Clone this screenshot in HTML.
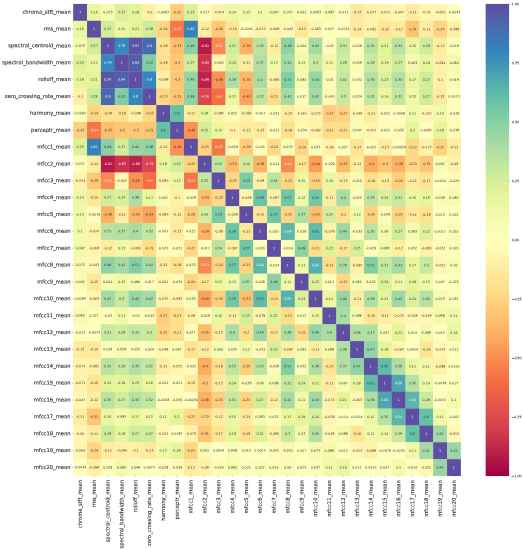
<!DOCTYPE html>
<html lang="en"><head><meta charset="utf-8"><title>Correlation heatmap</title>
<style>html,body{margin:0;padding:0;background:#fff;overflow:hidden}svg{display:block}text{font-family:'DejaVu Sans','Liberation Sans',sans-serif}.a{font-size:3.27px;text-anchor:middle;fill:#262626}.w{fill:#fff}.yl{font-size:5.23px;text-anchor:end;fill:#262626;stroke:#262626;stroke-width:.1px}.xl{font-size:5.23px;text-anchor:end;fill:#262626;stroke:#262626;stroke-width:.1px}.cb{font-size:3.27px;fill:#262626;stroke:#262626;stroke-width:.07px}</style></head><body>
<svg width="523" height="550" viewBox="0 0 523 550">
<rect x="0" y="0" width="523" height="550" fill="#ffffff"/>
<defs><linearGradient id="g" x1="0" y1="0" x2="0" y2="1"><stop offset="0.0000" stop-color="#5e4fa2"/><stop offset="0.0156" stop-color="#5956a5"/><stop offset="0.0312" stop-color="#525fa9"/><stop offset="0.0469" stop-color="#4b68ae"/><stop offset="0.0625" stop-color="#4471b2"/><stop offset="0.0781" stop-color="#3d79b6"/><stop offset="0.0938" stop-color="#3682ba"/><stop offset="0.1094" stop-color="#358bbc"/><stop offset="0.1250" stop-color="#3d95b8"/><stop offset="0.1406" stop-color="#459eb4"/><stop offset="0.1562" stop-color="#4ea7b0"/><stop offset="0.1719" stop-color="#56b0ad"/><stop offset="0.1875" stop-color="#5eb9a9"/><stop offset="0.2031" stop-color="#66c2a5"/><stop offset="0.2188" stop-color="#71c6a5"/><stop offset="0.2344" stop-color="#7ccaa5"/><stop offset="0.2500" stop-color="#86cfa5"/><stop offset="0.2656" stop-color="#91d3a4"/><stop offset="0.2812" stop-color="#9cd7a4"/><stop offset="0.2969" stop-color="#a7dba4"/><stop offset="0.3125" stop-color="#b1dfa3"/><stop offset="0.3281" stop-color="#bae3a1"/><stop offset="0.3438" stop-color="#c3e79f"/><stop offset="0.3594" stop-color="#cdeb9d"/><stop offset="0.3750" stop-color="#d6ee9b"/><stop offset="0.3906" stop-color="#dff299"/><stop offset="0.4062" stop-color="#e7f59a"/><stop offset="0.4219" stop-color="#ebf7a0"/><stop offset="0.4375" stop-color="#eff9a6"/><stop offset="0.4531" stop-color="#f3faac"/><stop offset="0.4688" stop-color="#f7fcb2"/><stop offset="0.4844" stop-color="#fbfdb8"/><stop offset="0.5000" stop-color="#ffffbe"/><stop offset="0.5156" stop-color="#fffbb8"/><stop offset="0.5312" stop-color="#fff6b0"/><stop offset="0.5469" stop-color="#fff1a8"/><stop offset="0.5625" stop-color="#feec9f"/><stop offset="0.5781" stop-color="#fee797"/><stop offset="0.5938" stop-color="#fee28f"/><stop offset="0.6094" stop-color="#fedc88"/><stop offset="0.6250" stop-color="#fed481"/><stop offset="0.6406" stop-color="#fecc7b"/><stop offset="0.6562" stop-color="#fdc574"/><stop offset="0.6719" stop-color="#fdbd6d"/><stop offset="0.6875" stop-color="#fdb567"/><stop offset="0.7031" stop-color="#fdad60"/><stop offset="0.7188" stop-color="#fba35c"/><stop offset="0.7344" stop-color="#fa9857"/><stop offset="0.7500" stop-color="#f98e52"/><stop offset="0.7656" stop-color="#f7844e"/><stop offset="0.7812" stop-color="#f67a49"/><stop offset="0.7969" stop-color="#f47044"/><stop offset="0.8125" stop-color="#f06744"/><stop offset="0.8281" stop-color="#eb6046"/><stop offset="0.8438" stop-color="#e75948"/><stop offset="0.8594" stop-color="#e2514a"/><stop offset="0.8750" stop-color="#dd4a4c"/><stop offset="0.8906" stop-color="#d8434e"/><stop offset="0.9062" stop-color="#d23a4e"/><stop offset="0.9219" stop-color="#c9314c"/><stop offset="0.9375" stop-color="#c1274a"/><stop offset="0.9531" stop-color="#b81e48"/><stop offset="0.9688" stop-color="#af1446"/><stop offset="0.9844" stop-color="#a70b44"/><stop offset="1.0000" stop-color="#9e0142"/></linearGradient></defs>
<g>
<rect x="73.20" y="3.90" width="14.10" height="17.11" fill="#5e4fa2"/>
<rect x="87.05" y="3.90" width="14.10" height="17.11" fill="#ebf7a0"/>
<rect x="100.89" y="3.90" width="14.10" height="17.11" fill="#f6fbb0"/>
<rect x="114.74" y="3.90" width="14.10" height="17.11" fill="#ddf19a"/>
<rect x="128.59" y="3.90" width="14.10" height="17.11" fill="#e7f59a"/>
<rect x="142.43" y="3.90" width="14.10" height="17.11" fill="#fff0a6"/>
<rect x="156.28" y="3.90" width="14.10" height="17.11" fill="#fefebd"/>
<rect x="170.12" y="3.90" width="14.10" height="17.11" fill="#fed07e"/>
<rect x="183.97" y="3.90" width="14.10" height="17.11" fill="#ddf19a"/>
<rect x="197.82" y="3.90" width="14.10" height="17.11" fill="#fcfeba"/>
<rect x="211.66" y="3.90" width="14.10" height="17.11" fill="#fff3ac"/>
<rect x="225.51" y="3.90" width="14.10" height="17.11" fill="#eef8a4"/>
<rect x="239.36" y="3.90" width="14.10" height="17.11" fill="#eff9a6"/>
<rect x="253.20" y="3.90" width="14.10" height="17.11" fill="#f3faac"/>
<rect x="267.05" y="3.90" width="14.10" height="17.11" fill="#f3faac"/>
<rect x="280.90" y="3.90" width="14.10" height="17.11" fill="#f6fbb0"/>
<rect x="294.74" y="3.90" width="14.10" height="17.11" fill="#f8fcb4"/>
<rect x="308.59" y="3.90" width="14.10" height="17.11" fill="#fefebd"/>
<rect x="322.44" y="3.90" width="14.10" height="17.11" fill="#f5fbaf"/>
<rect x="336.28" y="3.90" width="14.10" height="17.11" fill="#fffdbc"/>
<rect x="350.13" y="3.90" width="14.10" height="17.11" fill="#feeb9d"/>
<rect x="363.97" y="3.90" width="14.10" height="17.11" fill="#fff3ac"/>
<rect x="377.82" y="3.90" width="14.10" height="17.11" fill="#fff3ac"/>
<rect x="391.67" y="3.90" width="14.10" height="17.11" fill="#fff7b2"/>
<rect x="405.51" y="3.90" width="14.10" height="17.11" fill="#feeda1"/>
<rect x="419.36" y="3.90" width="14.10" height="17.11" fill="#fff6b0"/>
<rect x="433.21" y="3.90" width="14.10" height="17.11" fill="#fff5ae"/>
<rect x="447.05" y="3.90" width="13.85" height="17.11" fill="#fffebe"/>
<rect x="73.20" y="20.76" width="14.10" height="17.11" fill="#ebf7a0"/>
<rect x="87.05" y="20.76" width="14.10" height="17.11" fill="#5e4fa2"/>
<rect x="100.89" y="20.76" width="14.10" height="17.11" fill="#d1ed9c"/>
<rect x="114.74" y="20.76" width="14.10" height="17.11" fill="#ecf7a1"/>
<rect x="128.59" y="20.76" width="14.10" height="17.11" fill="#e4f498"/>
<rect x="142.43" y="20.76" width="14.10" height="17.11" fill="#cfec9d"/>
<rect x="156.28" y="20.76" width="14.10" height="17.11" fill="#fed683"/>
<rect x="170.12" y="20.76" width="14.10" height="17.11" fill="#f57748"/>
<rect x="183.97" y="20.76" width="14.10" height="17.11" fill="#3682ba"/>
<rect x="197.82" y="20.76" width="14.10" height="17.11" fill="#feec9f"/>
<rect x="211.66" y="20.76" width="14.10" height="17.11" fill="#fec877"/>
<rect x="225.51" y="20.76" width="14.10" height="17.11" fill="#fee695"/>
<rect x="239.36" y="20.76" width="14.10" height="17.11" fill="#fffebe"/>
<rect x="253.20" y="20.76" width="14.10" height="17.11" fill="#fff3ac"/>
<rect x="267.05" y="20.76" width="14.10" height="17.11" fill="#fff5ae"/>
<rect x="280.90" y="20.76" width="14.10" height="17.11" fill="#fff8b4"/>
<rect x="294.74" y="20.76" width="14.10" height="17.11" fill="#fee797"/>
<rect x="308.59" y="20.76" width="14.10" height="17.11" fill="#fff5ae"/>
<rect x="322.44" y="20.76" width="14.10" height="17.11" fill="#fcfeba"/>
<rect x="336.28" y="20.76" width="14.10" height="17.11" fill="#fffebe"/>
<rect x="350.13" y="20.76" width="14.10" height="17.11" fill="#feea9b"/>
<rect x="363.97" y="20.76" width="14.10" height="17.11" fill="#fff2aa"/>
<rect x="377.82" y="20.76" width="14.10" height="17.11" fill="#fee695"/>
<rect x="391.67" y="20.76" width="14.10" height="17.11" fill="#feec9f"/>
<rect x="405.51" y="20.76" width="14.10" height="17.11" fill="#fdc574"/>
<rect x="419.36" y="20.76" width="14.10" height="17.11" fill="#feeda1"/>
<rect x="433.21" y="20.76" width="14.10" height="17.11" fill="#fed683"/>
<rect x="447.05" y="20.76" width="13.85" height="17.11" fill="#fff0a6"/>
<rect x="73.20" y="37.62" width="14.10" height="17.11" fill="#f6fbb0"/>
<rect x="87.05" y="37.62" width="14.10" height="17.11" fill="#d1ed9c"/>
<rect x="100.89" y="37.62" width="14.10" height="17.11" fill="#5e4fa2"/>
<rect x="114.74" y="37.62" width="14.10" height="17.11" fill="#3389bd"/>
<rect x="128.59" y="37.62" width="14.10" height="17.11" fill="#5956a5"/>
<rect x="142.43" y="37.62" width="14.10" height="17.11" fill="#496aaf"/>
<rect x="156.28" y="37.62" width="14.10" height="17.11" fill="#fee28f"/>
<rect x="170.12" y="37.62" width="14.10" height="17.11" fill="#fdbf6f"/>
<rect x="183.97" y="37.62" width="14.10" height="17.11" fill="#8cd1a4"/>
<rect x="197.82" y="37.62" width="14.10" height="17.11" fill="#b61b48"/>
<rect x="211.66" y="37.62" width="14.10" height="17.11" fill="#f88950"/>
<rect x="225.51" y="37.62" width="14.10" height="17.11" fill="#d1ed9c"/>
<rect x="239.36" y="37.62" width="14.10" height="17.11" fill="#fdb163"/>
<rect x="253.20" y="37.62" width="14.10" height="17.11" fill="#bae3a1"/>
<rect x="267.05" y="37.62" width="14.10" height="17.11" fill="#feec9f"/>
<rect x="280.90" y="37.62" width="14.10" height="17.11" fill="#8fd2a4"/>
<rect x="294.74" y="37.62" width="14.10" height="17.11" fill="#f7fcb2"/>
<rect x="308.59" y="37.62" width="14.10" height="17.11" fill="#a4daa4"/>
<rect x="322.44" y="37.62" width="14.10" height="17.11" fill="#fffbb8"/>
<rect x="336.28" y="37.62" width="14.10" height="17.11" fill="#c6e89f"/>
<rect x="350.13" y="37.62" width="14.10" height="17.11" fill="#fcfeba"/>
<rect x="363.97" y="37.62" width="14.10" height="17.11" fill="#bae3a1"/>
<rect x="377.82" y="37.62" width="14.10" height="17.11" fill="#e4f498"/>
<rect x="391.67" y="37.62" width="14.10" height="17.11" fill="#bae3a1"/>
<rect x="405.51" y="37.62" width="14.10" height="17.11" fill="#ebf7a0"/>
<rect x="419.36" y="37.62" width="14.10" height="17.11" fill="#cfec9d"/>
<rect x="433.21" y="37.62" width="14.10" height="17.11" fill="#feec9f"/>
<rect x="447.05" y="37.62" width="13.85" height="17.11" fill="#fcfeba"/>
<rect x="73.20" y="54.48" width="14.10" height="17.11" fill="#ddf19a"/>
<rect x="87.05" y="54.48" width="14.10" height="17.11" fill="#ecf7a1"/>
<rect x="100.89" y="54.48" width="14.10" height="17.11" fill="#3389bd"/>
<rect x="114.74" y="54.48" width="14.10" height="17.11" fill="#5e4fa2"/>
<rect x="128.59" y="54.48" width="14.10" height="17.11" fill="#525fa9"/>
<rect x="142.43" y="54.48" width="14.10" height="17.11" fill="#81cda5"/>
<rect x="156.28" y="54.48" width="14.10" height="17.11" fill="#fee28f"/>
<rect x="170.12" y="54.48" width="14.10" height="17.11" fill="#fdc776"/>
<rect x="183.97" y="54.48" width="14.10" height="17.11" fill="#d1ed9c"/>
<rect x="197.82" y="54.48" width="14.10" height="17.11" fill="#cb334d"/>
<rect x="211.66" y="54.48" width="14.10" height="17.11" fill="#fff8b4"/>
<rect x="225.51" y="54.48" width="14.10" height="17.11" fill="#daf09a"/>
<rect x="239.36" y="54.48" width="14.10" height="17.11" fill="#feeda1"/>
<rect x="253.20" y="54.48" width="14.10" height="17.11" fill="#b3e0a2"/>
<rect x="267.05" y="54.48" width="14.10" height="17.11" fill="#eff9a6"/>
<rect x="280.90" y="54.48" width="14.10" height="17.11" fill="#a7dba4"/>
<rect x="294.74" y="54.48" width="14.10" height="17.11" fill="#eff9a6"/>
<rect x="308.59" y="54.48" width="14.10" height="17.11" fill="#c8e99e"/>
<rect x="322.44" y="54.48" width="14.10" height="17.11" fill="#f1f9a9"/>
<rect x="336.28" y="54.48" width="14.10" height="17.11" fill="#cfec9d"/>
<rect x="350.13" y="54.48" width="14.10" height="17.11" fill="#f8fcb4"/>
<rect x="363.97" y="54.48" width="14.10" height="17.11" fill="#caea9e"/>
<rect x="377.82" y="54.48" width="14.10" height="17.11" fill="#e7f59a"/>
<rect x="391.67" y="54.48" width="14.10" height="17.11" fill="#d1ed9c"/>
<rect x="405.51" y="54.48" width="14.10" height="17.11" fill="#f4faad"/>
<rect x="419.36" y="54.48" width="14.10" height="17.11" fill="#e8f69b"/>
<rect x="433.21" y="54.48" width="14.10" height="17.11" fill="#fff0a6"/>
<rect x="447.05" y="54.48" width="13.85" height="17.11" fill="#f4faad"/>
<rect x="73.20" y="71.34" width="14.10" height="17.11" fill="#e7f59a"/>
<rect x="87.05" y="71.34" width="14.10" height="17.11" fill="#e4f498"/>
<rect x="100.89" y="71.34" width="14.10" height="17.11" fill="#5956a5"/>
<rect x="114.74" y="71.34" width="14.10" height="17.11" fill="#525fa9"/>
<rect x="128.59" y="71.34" width="14.10" height="17.11" fill="#5e4fa2"/>
<rect x="142.43" y="71.34" width="14.10" height="17.11" fill="#3387bc"/>
<rect x="156.28" y="71.34" width="14.10" height="17.11" fill="#fff0a6"/>
<rect x="170.12" y="71.34" width="14.10" height="17.11" fill="#fdc776"/>
<rect x="183.97" y="71.34" width="14.10" height="17.11" fill="#97d5a4"/>
<rect x="197.82" y="71.34" width="14.10" height="17.11" fill="#bc2249"/>
<rect x="211.66" y="71.34" width="14.10" height="17.11" fill="#f99355"/>
<rect x="225.51" y="71.34" width="14.10" height="17.11" fill="#b1dfa3"/>
<rect x="239.36" y="71.34" width="14.10" height="17.11" fill="#fdb768"/>
<rect x="253.20" y="71.34" width="14.10" height="17.11" fill="#aadca4"/>
<rect x="267.05" y="71.34" width="14.10" height="17.11" fill="#fff1a8"/>
<rect x="280.90" y="71.34" width="14.10" height="17.11" fill="#84cea5"/>
<rect x="294.74" y="71.34" width="14.10" height="17.11" fill="#f5fbaf"/>
<rect x="308.59" y="71.34" width="14.10" height="17.11" fill="#97d5a4"/>
<rect x="322.44" y="71.34" width="14.10" height="17.11" fill="#fffcba"/>
<rect x="336.28" y="71.34" width="14.10" height="17.11" fill="#c3e79f"/>
<rect x="350.13" y="71.34" width="14.10" height="17.11" fill="#fbfdb8"/>
<rect x="363.97" y="71.34" width="14.10" height="17.11" fill="#b5e1a2"/>
<rect x="377.82" y="71.34" width="14.10" height="17.11" fill="#ddf19a"/>
<rect x="391.67" y="71.34" width="14.10" height="17.11" fill="#b5e1a2"/>
<rect x="405.51" y="71.34" width="14.10" height="17.11" fill="#eaf79e"/>
<rect x="419.36" y="71.34" width="14.10" height="17.11" fill="#d1ed9c"/>
<rect x="433.21" y="71.34" width="14.10" height="17.11" fill="#fff0a6"/>
<rect x="447.05" y="71.34" width="13.85" height="17.11" fill="#f9fcb5"/>
<rect x="73.20" y="88.20" width="14.10" height="17.11" fill="#fff0a6"/>
<rect x="87.05" y="88.20" width="14.10" height="17.11" fill="#cfec9d"/>
<rect x="100.89" y="88.20" width="14.10" height="17.11" fill="#496aaf"/>
<rect x="114.74" y="88.20" width="14.10" height="17.11" fill="#81cda5"/>
<rect x="128.59" y="88.20" width="14.10" height="17.11" fill="#3387bc"/>
<rect x="142.43" y="88.20" width="14.10" height="17.11" fill="#5e4fa2"/>
<rect x="156.28" y="88.20" width="14.10" height="17.11" fill="#fed884"/>
<rect x="170.12" y="88.20" width="14.10" height="17.11" fill="#fdc574"/>
<rect x="183.97" y="88.20" width="14.10" height="17.11" fill="#8fd2a4"/>
<rect x="197.82" y="88.20" width="14.10" height="17.11" fill="#da464d"/>
<rect x="211.66" y="88.20" width="14.10" height="17.11" fill="#f46d43"/>
<rect x="225.51" y="88.20" width="14.10" height="17.11" fill="#eaf79e"/>
<rect x="239.36" y="88.20" width="14.10" height="17.11" fill="#fba35c"/>
<rect x="253.20" y="88.20" width="14.10" height="17.11" fill="#c3e79f"/>
<rect x="267.05" y="88.20" width="14.10" height="17.11" fill="#fede89"/>
<rect x="280.90" y="88.20" width="14.10" height="17.11" fill="#a4daa4"/>
<rect x="294.74" y="88.20" width="14.10" height="17.11" fill="#fdfebb"/>
<rect x="308.59" y="88.20" width="14.10" height="17.11" fill="#a4daa4"/>
<rect x="322.44" y="88.20" width="14.10" height="17.11" fill="#fff8b4"/>
<rect x="336.28" y="88.20" width="14.10" height="17.11" fill="#c8e99e"/>
<rect x="350.13" y="88.20" width="14.10" height="17.11" fill="#fcfeba"/>
<rect x="363.97" y="88.20" width="14.10" height="17.11" fill="#c3e79f"/>
<rect x="377.82" y="88.20" width="14.10" height="17.11" fill="#ebf7a0"/>
<rect x="391.67" y="88.20" width="14.10" height="17.11" fill="#c3e79f"/>
<rect x="405.51" y="88.20" width="14.10" height="17.11" fill="#eff9a6"/>
<rect x="419.36" y="88.20" width="14.10" height="17.11" fill="#d1ed9c"/>
<rect x="433.21" y="88.20" width="14.10" height="17.11" fill="#feeb9d"/>
<rect x="447.05" y="88.20" width="13.85" height="17.11" fill="#ffffbe"/>
<rect x="73.20" y="105.06" width="14.10" height="17.11" fill="#fefebd"/>
<rect x="87.05" y="105.06" width="14.10" height="17.11" fill="#fed683"/>
<rect x="100.89" y="105.06" width="14.10" height="17.11" fill="#fee28f"/>
<rect x="114.74" y="105.06" width="14.10" height="17.11" fill="#fee28f"/>
<rect x="128.59" y="105.06" width="14.10" height="17.11" fill="#fff0a6"/>
<rect x="142.43" y="105.06" width="14.10" height="17.11" fill="#fed884"/>
<rect x="156.28" y="105.06" width="14.10" height="17.11" fill="#5e4fa2"/>
<rect x="170.12" y="105.06" width="14.10" height="17.11" fill="#66c2a5"/>
<rect x="183.97" y="105.06" width="14.10" height="17.11" fill="#feec9f"/>
<rect x="197.82" y="105.06" width="14.10" height="17.11" fill="#e8f69b"/>
<rect x="211.66" y="105.06" width="14.10" height="17.11" fill="#fff2aa"/>
<rect x="225.51" y="105.06" width="14.10" height="17.11" fill="#f9fcb5"/>
<rect x="239.36" y="105.06" width="14.10" height="17.11" fill="#fff0a6"/>
<rect x="253.20" y="105.06" width="14.10" height="17.11" fill="#fffebe"/>
<rect x="267.05" y="105.06" width="14.10" height="17.11" fill="#fffbb8"/>
<rect x="280.90" y="105.06" width="14.10" height="17.11" fill="#feeb9d"/>
<rect x="294.74" y="105.06" width="14.10" height="17.11" fill="#fff6b0"/>
<rect x="308.59" y="105.06" width="14.10" height="17.11" fill="#fff3ac"/>
<rect x="322.44" y="105.06" width="14.10" height="17.11" fill="#fece7c"/>
<rect x="336.28" y="105.06" width="14.10" height="17.11" fill="#fed481"/>
<rect x="350.13" y="105.06" width="14.10" height="17.11" fill="#fff7b2"/>
<rect x="363.97" y="105.06" width="14.10" height="17.11" fill="#feeda1"/>
<rect x="377.82" y="105.06" width="14.10" height="17.11" fill="#fffcba"/>
<rect x="391.67" y="105.06" width="14.10" height="17.11" fill="#fffebe"/>
<rect x="405.51" y="105.06" width="14.10" height="17.11" fill="#f1f9a9"/>
<rect x="419.36" y="105.06" width="14.10" height="17.11" fill="#fff7b2"/>
<rect x="433.21" y="105.06" width="14.10" height="17.11" fill="#eff9a6"/>
<rect x="447.05" y="105.06" width="13.85" height="17.11" fill="#fffbb8"/>
<rect x="73.20" y="121.93" width="14.10" height="17.11" fill="#fed07e"/>
<rect x="87.05" y="121.93" width="14.10" height="17.11" fill="#f57748"/>
<rect x="100.89" y="121.93" width="14.10" height="17.11" fill="#fdbf6f"/>
<rect x="114.74" y="121.93" width="14.10" height="17.11" fill="#fdc776"/>
<rect x="128.59" y="121.93" width="14.10" height="17.11" fill="#fdc776"/>
<rect x="142.43" y="121.93" width="14.10" height="17.11" fill="#fdc574"/>
<rect x="156.28" y="121.93" width="14.10" height="17.11" fill="#66c2a5"/>
<rect x="170.12" y="121.93" width="14.10" height="17.11" fill="#5e4fa2"/>
<rect x="183.97" y="121.93" width="14.10" height="17.11" fill="#f99355"/>
<rect x="197.82" y="121.93" width="14.10" height="17.11" fill="#d6ee9b"/>
<rect x="211.66" y="121.93" width="14.10" height="17.11" fill="#ecf7a1"/>
<rect x="225.51" y="121.93" width="14.10" height="17.11" fill="#fff0a6"/>
<rect x="239.36" y="121.93" width="14.10" height="17.11" fill="#feec9f"/>
<rect x="253.20" y="121.93" width="14.10" height="17.11" fill="#feeb9d"/>
<rect x="267.05" y="121.93" width="14.10" height="17.11" fill="#fffcba"/>
<rect x="280.90" y="121.93" width="14.10" height="17.11" fill="#fee18d"/>
<rect x="294.74" y="121.93" width="14.10" height="17.11" fill="#fffab6"/>
<rect x="308.59" y="121.93" width="14.10" height="17.11" fill="#fff1a8"/>
<rect x="322.44" y="121.93" width="14.10" height="17.11" fill="#fede89"/>
<rect x="336.28" y="121.93" width="14.10" height="17.11" fill="#fede89"/>
<rect x="350.13" y="121.93" width="14.10" height="17.11" fill="#f9fcb5"/>
<rect x="363.97" y="121.93" width="14.10" height="17.11" fill="#fff6b0"/>
<rect x="377.82" y="121.93" width="14.10" height="17.11" fill="#fffcba"/>
<rect x="391.67" y="121.93" width="14.10" height="17.11" fill="#fffab6"/>
<rect x="405.51" y="121.93" width="14.10" height="17.11" fill="#e6f598"/>
<rect x="419.36" y="121.93" width="14.10" height="17.11" fill="#fefebd"/>
<rect x="433.21" y="121.93" width="14.10" height="17.11" fill="#e8f69b"/>
<rect x="447.05" y="121.93" width="13.85" height="17.11" fill="#fffab6"/>
<rect x="73.20" y="138.79" width="14.10" height="17.11" fill="#ddf19a"/>
<rect x="87.05" y="138.79" width="14.10" height="17.11" fill="#3682ba"/>
<rect x="100.89" y="138.79" width="14.10" height="17.11" fill="#8cd1a4"/>
<rect x="114.74" y="138.79" width="14.10" height="17.11" fill="#d1ed9c"/>
<rect x="128.59" y="138.79" width="14.10" height="17.11" fill="#97d5a4"/>
<rect x="142.43" y="138.79" width="14.10" height="17.11" fill="#8fd2a4"/>
<rect x="156.28" y="138.79" width="14.10" height="17.11" fill="#feec9f"/>
<rect x="170.12" y="138.79" width="14.10" height="17.11" fill="#f99355"/>
<rect x="183.97" y="138.79" width="14.10" height="17.11" fill="#5e4fa2"/>
<rect x="197.82" y="138.79" width="14.10" height="17.11" fill="#fed481"/>
<rect x="211.66" y="138.79" width="14.10" height="17.11" fill="#f57748"/>
<rect x="225.51" y="138.79" width="14.10" height="17.11" fill="#fffbb8"/>
<rect x="239.36" y="138.79" width="14.10" height="17.11" fill="#fecc7b"/>
<rect x="253.20" y="138.79" width="14.10" height="17.11" fill="#fcfeba"/>
<rect x="267.05" y="138.79" width="14.10" height="17.11" fill="#feda86"/>
<rect x="280.90" y="138.79" width="14.10" height="17.11" fill="#f9fcb5"/>
<rect x="294.74" y="138.79" width="14.10" height="17.11" fill="#fed683"/>
<rect x="308.59" y="138.79" width="14.10" height="17.11" fill="#fbfdb8"/>
<rect x="322.44" y="138.79" width="14.10" height="17.11" fill="#fff1a8"/>
<rect x="336.28" y="138.79" width="14.10" height="17.11" fill="#fcfeba"/>
<rect x="350.13" y="138.79" width="14.10" height="17.11" fill="#fee593"/>
<rect x="363.97" y="138.79" width="14.10" height="17.11" fill="#fffbb8"/>
<rect x="377.82" y="138.79" width="14.10" height="17.11" fill="#feeb9d"/>
<rect x="391.67" y="138.79" width="14.10" height="17.11" fill="#fffebe"/>
<rect x="405.51" y="138.79" width="14.10" height="17.11" fill="#feda86"/>
<rect x="419.36" y="138.79" width="14.10" height="17.11" fill="#fff3ac"/>
<rect x="433.21" y="138.79" width="14.10" height="17.11" fill="#fed481"/>
<rect x="447.05" y="138.79" width="13.85" height="17.11" fill="#feec9f"/>
<rect x="73.20" y="155.65" width="14.10" height="17.11" fill="#fcfeba"/>
<rect x="87.05" y="155.65" width="14.10" height="17.11" fill="#feec9f"/>
<rect x="100.89" y="155.65" width="14.10" height="17.11" fill="#b61b48"/>
<rect x="114.74" y="155.65" width="14.10" height="17.11" fill="#cb334d"/>
<rect x="128.59" y="155.65" width="14.10" height="17.11" fill="#bc2249"/>
<rect x="142.43" y="155.65" width="14.10" height="17.11" fill="#da464d"/>
<rect x="156.28" y="155.65" width="14.10" height="17.11" fill="#e8f69b"/>
<rect x="170.12" y="155.65" width="14.10" height="17.11" fill="#d6ee9b"/>
<rect x="183.97" y="155.65" width="14.10" height="17.11" fill="#fed481"/>
<rect x="197.82" y="155.65" width="14.10" height="17.11" fill="#5e4fa2"/>
<rect x="211.66" y="155.65" width="14.10" height="17.11" fill="#c3e79f"/>
<rect x="225.51" y="155.65" width="14.10" height="17.11" fill="#fdbf6f"/>
<rect x="239.36" y="155.65" width="14.10" height="17.11" fill="#d3ed9c"/>
<rect x="253.20" y="155.65" width="14.10" height="17.11" fill="#fdb365"/>
<rect x="267.05" y="155.65" width="14.10" height="17.11" fill="#fffdbc"/>
<rect x="280.90" y="155.65" width="14.10" height="17.11" fill="#f88950"/>
<rect x="294.74" y="155.65" width="14.10" height="17.11" fill="#fee593"/>
<rect x="308.59" y="155.65" width="14.10" height="17.11" fill="#fba05b"/>
<rect x="322.44" y="155.65" width="14.10" height="17.11" fill="#fffbb8"/>
<rect x="336.28" y="155.65" width="14.10" height="17.11" fill="#fdbb6c"/>
<rect x="350.13" y="155.65" width="14.10" height="17.11" fill="#feec9f"/>
<rect x="363.97" y="155.65" width="14.10" height="17.11" fill="#fdad60"/>
<rect x="377.82" y="155.65" width="14.10" height="17.11" fill="#fdc776"/>
<rect x="391.67" y="155.65" width="14.10" height="17.11" fill="#fdb163"/>
<rect x="405.51" y="155.65" width="14.10" height="17.11" fill="#fed884"/>
<rect x="419.36" y="155.65" width="14.10" height="17.11" fill="#fdc574"/>
<rect x="433.21" y="155.65" width="14.10" height="17.11" fill="#f7fcb2"/>
<rect x="447.05" y="155.65" width="13.85" height="17.11" fill="#fff1a8"/>
<rect x="73.20" y="172.51" width="14.10" height="17.11" fill="#fff3ac"/>
<rect x="87.05" y="172.51" width="14.10" height="17.11" fill="#fec877"/>
<rect x="100.89" y="172.51" width="14.10" height="17.11" fill="#f88950"/>
<rect x="114.74" y="172.51" width="14.10" height="17.11" fill="#fff8b4"/>
<rect x="128.59" y="172.51" width="14.10" height="17.11" fill="#f99355"/>
<rect x="142.43" y="172.51" width="14.10" height="17.11" fill="#f46d43"/>
<rect x="156.28" y="172.51" width="14.10" height="17.11" fill="#fff2aa"/>
<rect x="170.12" y="172.51" width="14.10" height="17.11" fill="#ecf7a1"/>
<rect x="183.97" y="172.51" width="14.10" height="17.11" fill="#f57748"/>
<rect x="197.82" y="172.51" width="14.10" height="17.11" fill="#c3e79f"/>
<rect x="211.66" y="172.51" width="14.10" height="17.11" fill="#5e4fa2"/>
<rect x="225.51" y="172.51" width="14.10" height="17.11" fill="#fed884"/>
<rect x="239.36" y="172.51" width="14.10" height="17.11" fill="#7ecca5"/>
<rect x="253.20" y="172.51" width="14.10" height="17.11" fill="#fff1a8"/>
<rect x="267.05" y="172.51" width="14.10" height="17.11" fill="#bce4a0"/>
<rect x="280.90" y="172.51" width="14.10" height="17.11" fill="#fed683"/>
<rect x="294.74" y="172.51" width="14.10" height="17.11" fill="#ecf7a1"/>
<rect x="308.59" y="172.51" width="14.10" height="17.11" fill="#fed07e"/>
<rect x="322.44" y="172.51" width="14.10" height="17.11" fill="#ebf7a0"/>
<rect x="336.28" y="172.51" width="14.10" height="17.11" fill="#feeb9d"/>
<rect x="350.13" y="172.51" width="14.10" height="17.11" fill="#f7fcb2"/>
<rect x="363.97" y="172.51" width="14.10" height="17.11" fill="#fee18d"/>
<rect x="377.82" y="172.51" width="14.10" height="17.11" fill="#feeb9d"/>
<rect x="391.67" y="172.51" width="14.10" height="17.11" fill="#fed07e"/>
<rect x="405.51" y="172.51" width="14.10" height="17.11" fill="#feec9f"/>
<rect x="419.36" y="172.51" width="14.10" height="17.11" fill="#fee593"/>
<rect x="433.21" y="172.51" width="14.10" height="17.11" fill="#ffffbe"/>
<rect x="447.05" y="172.51" width="13.85" height="17.11" fill="#fffbb8"/>
<rect x="73.20" y="189.37" width="14.10" height="17.11" fill="#eef8a4"/>
<rect x="87.05" y="189.37" width="14.10" height="17.11" fill="#fee695"/>
<rect x="100.89" y="189.37" width="14.10" height="17.11" fill="#d1ed9c"/>
<rect x="114.74" y="189.37" width="14.10" height="17.11" fill="#daf09a"/>
<rect x="128.59" y="189.37" width="14.10" height="17.11" fill="#b1dfa3"/>
<rect x="142.43" y="189.37" width="14.10" height="17.11" fill="#eaf79e"/>
<rect x="156.28" y="189.37" width="14.10" height="17.11" fill="#f9fcb5"/>
<rect x="170.12" y="189.37" width="14.10" height="17.11" fill="#fff0a6"/>
<rect x="183.97" y="189.37" width="14.10" height="17.11" fill="#fffbb8"/>
<rect x="197.82" y="189.37" width="14.10" height="17.11" fill="#fdbf6f"/>
<rect x="211.66" y="189.37" width="14.10" height="17.11" fill="#fed884"/>
<rect x="225.51" y="189.37" width="14.10" height="17.11" fill="#5e4fa2"/>
<rect x="239.36" y="189.37" width="14.10" height="17.11" fill="#fff5ae"/>
<rect x="253.20" y="189.37" width="14.10" height="17.11" fill="#6bc4a5"/>
<rect x="267.05" y="189.37" width="14.10" height="17.11" fill="#fff0a6"/>
<rect x="280.90" y="189.37" width="14.10" height="17.11" fill="#71c6a5"/>
<rect x="294.74" y="189.37" width="14.10" height="17.11" fill="#f0f9a7"/>
<rect x="308.59" y="189.37" width="14.10" height="17.11" fill="#74c7a5"/>
<rect x="322.44" y="189.37" width="14.10" height="17.11" fill="#feeda1"/>
<rect x="336.28" y="189.37" width="14.10" height="17.11" fill="#aadca4"/>
<rect x="350.13" y="189.37" width="14.10" height="17.11" fill="#fbfdb8"/>
<rect x="363.97" y="189.37" width="14.10" height="17.11" fill="#bfe5a0"/>
<rect x="377.82" y="189.37" width="14.10" height="17.11" fill="#daf09a"/>
<rect x="391.67" y="189.37" width="14.10" height="17.11" fill="#c6e89f"/>
<rect x="405.51" y="189.37" width="14.10" height="17.11" fill="#ebf7a0"/>
<rect x="419.36" y="189.37" width="14.10" height="17.11" fill="#e8f69b"/>
<rect x="433.21" y="189.37" width="14.10" height="17.11" fill="#f9fcb5"/>
<rect x="447.05" y="189.37" width="13.85" height="17.11" fill="#f5fbaf"/>
<rect x="73.20" y="206.23" width="14.10" height="17.11" fill="#eff9a6"/>
<rect x="87.05" y="206.23" width="14.10" height="17.11" fill="#fffebe"/>
<rect x="100.89" y="206.23" width="14.10" height="17.11" fill="#fdb163"/>
<rect x="114.74" y="206.23" width="14.10" height="17.11" fill="#feeda1"/>
<rect x="128.59" y="206.23" width="14.10" height="17.11" fill="#fdb768"/>
<rect x="142.43" y="206.23" width="14.10" height="17.11" fill="#fba35c"/>
<rect x="156.28" y="206.23" width="14.10" height="17.11" fill="#fff0a6"/>
<rect x="170.12" y="206.23" width="14.10" height="17.11" fill="#feec9f"/>
<rect x="183.97" y="206.23" width="14.10" height="17.11" fill="#fecc7b"/>
<rect x="197.82" y="206.23" width="14.10" height="17.11" fill="#d3ed9c"/>
<rect x="211.66" y="206.23" width="14.10" height="17.11" fill="#7ecca5"/>
<rect x="225.51" y="206.23" width="14.10" height="17.11" fill="#fff5ae"/>
<rect x="239.36" y="206.23" width="14.10" height="17.11" fill="#5e4fa2"/>
<rect x="253.20" y="206.23" width="14.10" height="17.11" fill="#fee797"/>
<rect x="267.05" y="206.23" width="14.10" height="17.11" fill="#71c6a5"/>
<rect x="280.90" y="206.23" width="14.10" height="17.11" fill="#fed481"/>
<rect x="294.74" y="206.23" width="14.10" height="17.11" fill="#b3e0a2"/>
<rect x="308.59" y="206.23" width="14.10" height="17.11" fill="#fdbf6f"/>
<rect x="322.44" y="206.23" width="14.10" height="17.11" fill="#d6ee9b"/>
<rect x="336.28" y="206.23" width="14.10" height="17.11" fill="#fee08b"/>
<rect x="350.13" y="206.23" width="14.10" height="17.11" fill="#f0f9a7"/>
<rect x="363.97" y="206.23" width="14.10" height="17.11" fill="#fed07e"/>
<rect x="377.82" y="206.23" width="14.10" height="17.11" fill="#fffab6"/>
<rect x="391.67" y="206.23" width="14.10" height="17.11" fill="#fed481"/>
<rect x="405.51" y="206.23" width="14.10" height="17.11" fill="#feea9b"/>
<rect x="419.36" y="206.23" width="14.10" height="17.11" fill="#fee28f"/>
<rect x="433.21" y="206.23" width="14.10" height="17.11" fill="#fefebd"/>
<rect x="447.05" y="206.23" width="13.85" height="17.11" fill="#fdfebb"/>
<rect x="73.20" y="223.09" width="14.10" height="17.11" fill="#f3faac"/>
<rect x="87.05" y="223.09" width="14.10" height="17.11" fill="#fff3ac"/>
<rect x="100.89" y="223.09" width="14.10" height="17.11" fill="#bae3a1"/>
<rect x="114.74" y="223.09" width="14.10" height="17.11" fill="#b3e0a2"/>
<rect x="128.59" y="223.09" width="14.10" height="17.11" fill="#aadca4"/>
<rect x="142.43" y="223.09" width="14.10" height="17.11" fill="#c3e79f"/>
<rect x="156.28" y="223.09" width="14.10" height="17.11" fill="#fffebe"/>
<rect x="170.12" y="223.09" width="14.10" height="17.11" fill="#feeb9d"/>
<rect x="183.97" y="223.09" width="14.10" height="17.11" fill="#fcfeba"/>
<rect x="197.82" y="223.09" width="14.10" height="17.11" fill="#fdb365"/>
<rect x="211.66" y="223.09" width="14.10" height="17.11" fill="#fff1a8"/>
<rect x="225.51" y="223.09" width="14.10" height="17.11" fill="#6bc4a5"/>
<rect x="239.36" y="223.09" width="14.10" height="17.11" fill="#fee797"/>
<rect x="253.20" y="223.09" width="14.10" height="17.11" fill="#5e4fa2"/>
<rect x="267.05" y="223.09" width="14.10" height="17.11" fill="#fdfebb"/>
<rect x="280.90" y="223.09" width="14.10" height="17.11" fill="#5cb7aa"/>
<rect x="294.74" y="223.09" width="14.10" height="17.11" fill="#fcfeba"/>
<rect x="308.59" y="223.09" width="14.10" height="17.11" fill="#60bba8"/>
<rect x="322.44" y="223.09" width="14.10" height="17.11" fill="#fff2aa"/>
<rect x="336.28" y="223.09" width="14.10" height="17.11" fill="#9cd7a4"/>
<rect x="350.13" y="223.09" width="14.10" height="17.11" fill="#fffab6"/>
<rect x="363.97" y="223.09" width="14.10" height="17.11" fill="#bae3a1"/>
<rect x="377.82" y="223.09" width="14.10" height="17.11" fill="#f4faad"/>
<rect x="391.67" y="223.09" width="14.10" height="17.11" fill="#d1ed9c"/>
<rect x="405.51" y="223.09" width="14.10" height="17.11" fill="#f5fbaf"/>
<rect x="419.36" y="223.09" width="14.10" height="17.11" fill="#dff299"/>
<rect x="433.21" y="223.09" width="14.10" height="17.11" fill="#ffffbe"/>
<rect x="447.05" y="223.09" width="13.85" height="17.11" fill="#f9fcb5"/>
<rect x="73.20" y="239.95" width="14.10" height="17.11" fill="#f3faac"/>
<rect x="87.05" y="239.95" width="14.10" height="17.11" fill="#fff5ae"/>
<rect x="100.89" y="239.95" width="14.10" height="17.11" fill="#feec9f"/>
<rect x="114.74" y="239.95" width="14.10" height="17.11" fill="#eff9a6"/>
<rect x="128.59" y="239.95" width="14.10" height="17.11" fill="#fff1a8"/>
<rect x="142.43" y="239.95" width="14.10" height="17.11" fill="#fede89"/>
<rect x="156.28" y="239.95" width="14.10" height="17.11" fill="#fffbb8"/>
<rect x="170.12" y="239.95" width="14.10" height="17.11" fill="#fffcba"/>
<rect x="183.97" y="239.95" width="14.10" height="17.11" fill="#feda86"/>
<rect x="197.82" y="239.95" width="14.10" height="17.11" fill="#fffdbc"/>
<rect x="211.66" y="239.95" width="14.10" height="17.11" fill="#bce4a0"/>
<rect x="225.51" y="239.95" width="14.10" height="17.11" fill="#fff0a6"/>
<rect x="239.36" y="239.95" width="14.10" height="17.11" fill="#71c6a5"/>
<rect x="253.20" y="239.95" width="14.10" height="17.11" fill="#fdfebb"/>
<rect x="267.05" y="239.95" width="14.10" height="17.11" fill="#5e4fa2"/>
<rect x="280.90" y="239.95" width="14.10" height="17.11" fill="#fffdbc"/>
<rect x="294.74" y="239.95" width="14.10" height="17.11" fill="#8cd1a4"/>
<rect x="308.59" y="239.95" width="14.10" height="17.11" fill="#fede89"/>
<rect x="322.44" y="239.95" width="14.10" height="17.11" fill="#dff299"/>
<rect x="336.28" y="239.95" width="14.10" height="17.11" fill="#fee593"/>
<rect x="350.13" y="239.95" width="14.10" height="17.11" fill="#d6ee9b"/>
<rect x="363.97" y="239.95" width="14.10" height="17.11" fill="#fffbb8"/>
<rect x="377.82" y="239.95" width="14.10" height="17.11" fill="#f4faad"/>
<rect x="391.67" y="239.95" width="14.10" height="17.11" fill="#feec9f"/>
<rect x="405.51" y="239.95" width="14.10" height="17.11" fill="#fbfdb8"/>
<rect x="419.36" y="239.95" width="14.10" height="17.11" fill="#fff1a8"/>
<rect x="433.21" y="239.95" width="14.10" height="17.11" fill="#fffab6"/>
<rect x="447.05" y="239.95" width="13.85" height="17.11" fill="#fcfeba"/>
<rect x="73.20" y="256.81" width="14.10" height="17.11" fill="#f6fbb0"/>
<rect x="87.05" y="256.81" width="14.10" height="17.11" fill="#fff8b4"/>
<rect x="100.89" y="256.81" width="14.10" height="17.11" fill="#8fd2a4"/>
<rect x="114.74" y="256.81" width="14.10" height="17.11" fill="#a7dba4"/>
<rect x="128.59" y="256.81" width="14.10" height="17.11" fill="#84cea5"/>
<rect x="142.43" y="256.81" width="14.10" height="17.11" fill="#a4daa4"/>
<rect x="156.28" y="256.81" width="14.10" height="17.11" fill="#feeb9d"/>
<rect x="170.12" y="256.81" width="14.10" height="17.11" fill="#fee18d"/>
<rect x="183.97" y="256.81" width="14.10" height="17.11" fill="#f9fcb5"/>
<rect x="197.82" y="256.81" width="14.10" height="17.11" fill="#f88950"/>
<rect x="211.66" y="256.81" width="14.10" height="17.11" fill="#fed683"/>
<rect x="225.51" y="256.81" width="14.10" height="17.11" fill="#71c6a5"/>
<rect x="239.36" y="256.81" width="14.10" height="17.11" fill="#fed481"/>
<rect x="253.20" y="256.81" width="14.10" height="17.11" fill="#5cb7aa"/>
<rect x="267.05" y="256.81" width="14.10" height="17.11" fill="#fffdbc"/>
<rect x="280.90" y="256.81" width="14.10" height="17.11" fill="#5e4fa2"/>
<rect x="294.74" y="256.81" width="14.10" height="17.11" fill="#f1f9a9"/>
<rect x="308.59" y="256.81" width="14.10" height="17.11" fill="#56b0ad"/>
<rect x="322.44" y="256.81" width="14.10" height="17.11" fill="#fede89"/>
<rect x="336.28" y="256.81" width="14.10" height="17.11" fill="#aedea3"/>
<rect x="350.13" y="256.81" width="14.10" height="17.11" fill="#fff0a6"/>
<rect x="363.97" y="256.81" width="14.10" height="17.11" fill="#84cea5"/>
<rect x="377.82" y="256.81" width="14.10" height="17.11" fill="#c6e89f"/>
<rect x="391.67" y="256.81" width="14.10" height="17.11" fill="#a7dba4"/>
<rect x="405.51" y="256.81" width="14.10" height="17.11" fill="#eaf79e"/>
<rect x="419.36" y="256.81" width="14.10" height="17.11" fill="#c8e99e"/>
<rect x="433.21" y="256.81" width="14.10" height="17.11" fill="#fff7b2"/>
<rect x="447.05" y="256.81" width="13.85" height="17.11" fill="#f8fcb4"/>
<rect x="73.20" y="273.67" width="14.10" height="17.11" fill="#f8fcb4"/>
<rect x="87.05" y="273.67" width="14.10" height="17.11" fill="#fee797"/>
<rect x="100.89" y="273.67" width="14.10" height="17.11" fill="#f7fcb2"/>
<rect x="114.74" y="273.67" width="14.10" height="17.11" fill="#eff9a6"/>
<rect x="128.59" y="273.67" width="14.10" height="17.11" fill="#f5fbaf"/>
<rect x="142.43" y="273.67" width="14.10" height="17.11" fill="#fdfebb"/>
<rect x="156.28" y="273.67" width="14.10" height="17.11" fill="#fff6b0"/>
<rect x="170.12" y="273.67" width="14.10" height="17.11" fill="#fffab6"/>
<rect x="183.97" y="273.67" width="14.10" height="17.11" fill="#fed683"/>
<rect x="197.82" y="273.67" width="14.10" height="17.11" fill="#fee593"/>
<rect x="211.66" y="273.67" width="14.10" height="17.11" fill="#ecf7a1"/>
<rect x="225.51" y="273.67" width="14.10" height="17.11" fill="#f0f9a7"/>
<rect x="239.36" y="273.67" width="14.10" height="17.11" fill="#b3e0a2"/>
<rect x="253.20" y="273.67" width="14.10" height="17.11" fill="#fcfeba"/>
<rect x="267.05" y="273.67" width="14.10" height="17.11" fill="#8cd1a4"/>
<rect x="280.90" y="273.67" width="14.10" height="17.11" fill="#f1f9a9"/>
<rect x="294.74" y="273.67" width="14.10" height="17.11" fill="#5e4fa2"/>
<rect x="308.59" y="273.67" width="14.10" height="17.11" fill="#ddf19a"/>
<rect x="322.44" y="273.67" width="14.10" height="17.11" fill="#fefebd"/>
<rect x="336.28" y="273.67" width="14.10" height="17.11" fill="#feda86"/>
<rect x="350.13" y="273.67" width="14.10" height="17.11" fill="#f5fbaf"/>
<rect x="363.97" y="273.67" width="14.10" height="17.11" fill="#f8fcb4"/>
<rect x="377.82" y="273.67" width="14.10" height="17.11" fill="#daf09a"/>
<rect x="391.67" y="273.67" width="14.10" height="17.11" fill="#f1f9a9"/>
<rect x="405.51" y="273.67" width="14.10" height="17.11" fill="#e7f59a"/>
<rect x="419.36" y="273.67" width="14.10" height="17.11" fill="#eff9a6"/>
<rect x="433.21" y="273.67" width="14.10" height="17.11" fill="#ffffbe"/>
<rect x="447.05" y="273.67" width="13.85" height="17.11" fill="#fdfebb"/>
<rect x="73.20" y="290.53" width="14.10" height="17.11" fill="#fefebd"/>
<rect x="87.05" y="290.53" width="14.10" height="17.11" fill="#fff5ae"/>
<rect x="100.89" y="290.53" width="14.10" height="17.11" fill="#a4daa4"/>
<rect x="114.74" y="290.53" width="14.10" height="17.11" fill="#c8e99e"/>
<rect x="128.59" y="290.53" width="14.10" height="17.11" fill="#97d5a4"/>
<rect x="142.43" y="290.53" width="14.10" height="17.11" fill="#a4daa4"/>
<rect x="156.28" y="290.53" width="14.10" height="17.11" fill="#fff3ac"/>
<rect x="170.12" y="290.53" width="14.10" height="17.11" fill="#fff1a8"/>
<rect x="183.97" y="290.53" width="14.10" height="17.11" fill="#fbfdb8"/>
<rect x="197.82" y="290.53" width="14.10" height="17.11" fill="#fba05b"/>
<rect x="211.66" y="290.53" width="14.10" height="17.11" fill="#fed07e"/>
<rect x="225.51" y="290.53" width="14.10" height="17.11" fill="#74c7a5"/>
<rect x="239.36" y="290.53" width="14.10" height="17.11" fill="#fdbf6f"/>
<rect x="253.20" y="290.53" width="14.10" height="17.11" fill="#60bba8"/>
<rect x="267.05" y="290.53" width="14.10" height="17.11" fill="#fede89"/>
<rect x="280.90" y="290.53" width="14.10" height="17.11" fill="#56b0ad"/>
<rect x="294.74" y="290.53" width="14.10" height="17.11" fill="#ddf19a"/>
<rect x="308.59" y="290.53" width="14.10" height="17.11" fill="#5e4fa2"/>
<rect x="322.44" y="290.53" width="14.10" height="17.11" fill="#ecf7a1"/>
<rect x="336.28" y="290.53" width="14.10" height="17.11" fill="#97d5a4"/>
<rect x="350.13" y="290.53" width="14.10" height="17.11" fill="#feeda1"/>
<rect x="363.97" y="290.53" width="14.10" height="17.11" fill="#b1dfa3"/>
<rect x="377.82" y="290.53" width="14.10" height="17.11" fill="#e4f498"/>
<rect x="391.67" y="290.53" width="14.10" height="17.11" fill="#9fd8a4"/>
<rect x="405.51" y="290.53" width="14.10" height="17.11" fill="#daf09a"/>
<rect x="419.36" y="290.53" width="14.10" height="17.11" fill="#b5e1a2"/>
<rect x="433.21" y="290.53" width="14.10" height="17.11" fill="#f6fbb0"/>
<rect x="447.05" y="290.53" width="13.85" height="17.11" fill="#fbfdb8"/>
<rect x="73.20" y="307.39" width="14.10" height="17.11" fill="#f5fbaf"/>
<rect x="87.05" y="307.39" width="14.10" height="17.11" fill="#fcfeba"/>
<rect x="100.89" y="307.39" width="14.10" height="17.11" fill="#fffbb8"/>
<rect x="114.74" y="307.39" width="14.10" height="17.11" fill="#f1f9a9"/>
<rect x="128.59" y="307.39" width="14.10" height="17.11" fill="#fffcba"/>
<rect x="142.43" y="307.39" width="14.10" height="17.11" fill="#fff8b4"/>
<rect x="156.28" y="307.39" width="14.10" height="17.11" fill="#fece7c"/>
<rect x="170.12" y="307.39" width="14.10" height="17.11" fill="#fede89"/>
<rect x="183.97" y="307.39" width="14.10" height="17.11" fill="#fff1a8"/>
<rect x="197.82" y="307.39" width="14.10" height="17.11" fill="#fffbb8"/>
<rect x="211.66" y="307.39" width="14.10" height="17.11" fill="#ebf7a0"/>
<rect x="225.51" y="307.39" width="14.10" height="17.11" fill="#feeda1"/>
<rect x="239.36" y="307.39" width="14.10" height="17.11" fill="#d6ee9b"/>
<rect x="253.20" y="307.39" width="14.10" height="17.11" fill="#fff2aa"/>
<rect x="267.05" y="307.39" width="14.10" height="17.11" fill="#dff299"/>
<rect x="280.90" y="307.39" width="14.10" height="17.11" fill="#fede89"/>
<rect x="294.74" y="307.39" width="14.10" height="17.11" fill="#fefebd"/>
<rect x="308.59" y="307.39" width="14.10" height="17.11" fill="#ecf7a1"/>
<rect x="322.44" y="307.39" width="14.10" height="17.11" fill="#5e4fa2"/>
<rect x="336.28" y="307.39" width="14.10" height="17.11" fill="#aadca4"/>
<rect x="350.13" y="307.39" width="14.10" height="17.11" fill="#f3faac"/>
<rect x="363.97" y="307.39" width="14.10" height="17.11" fill="#fee695"/>
<rect x="377.82" y="307.39" width="14.10" height="17.11" fill="#feeda1"/>
<rect x="391.67" y="307.39" width="14.10" height="17.11" fill="#fff3ac"/>
<rect x="405.51" y="307.39" width="14.10" height="17.11" fill="#fff6b0"/>
<rect x="419.36" y="307.39" width="14.10" height="17.11" fill="#fff7b2"/>
<rect x="433.21" y="307.39" width="14.10" height="17.11" fill="#f3faac"/>
<rect x="447.05" y="307.39" width="13.85" height="17.11" fill="#f1f9a9"/>
<rect x="73.20" y="324.25" width="14.10" height="17.11" fill="#fffdbc"/>
<rect x="87.05" y="324.25" width="14.10" height="17.11" fill="#fffebe"/>
<rect x="100.89" y="324.25" width="14.10" height="17.11" fill="#c6e89f"/>
<rect x="114.74" y="324.25" width="14.10" height="17.11" fill="#cfec9d"/>
<rect x="128.59" y="324.25" width="14.10" height="17.11" fill="#c3e79f"/>
<rect x="142.43" y="324.25" width="14.10" height="17.11" fill="#c8e99e"/>
<rect x="156.28" y="324.25" width="14.10" height="17.11" fill="#fed481"/>
<rect x="170.12" y="324.25" width="14.10" height="17.11" fill="#fede89"/>
<rect x="183.97" y="324.25" width="14.10" height="17.11" fill="#fcfeba"/>
<rect x="197.82" y="324.25" width="14.10" height="17.11" fill="#fdbb6c"/>
<rect x="211.66" y="324.25" width="14.10" height="17.11" fill="#feeb9d"/>
<rect x="225.51" y="324.25" width="14.10" height="17.11" fill="#aadca4"/>
<rect x="239.36" y="324.25" width="14.10" height="17.11" fill="#fee08b"/>
<rect x="253.20" y="324.25" width="14.10" height="17.11" fill="#9cd7a4"/>
<rect x="267.05" y="324.25" width="14.10" height="17.11" fill="#fee593"/>
<rect x="280.90" y="324.25" width="14.10" height="17.11" fill="#aedea3"/>
<rect x="294.74" y="324.25" width="14.10" height="17.11" fill="#feda86"/>
<rect x="308.59" y="324.25" width="14.10" height="17.11" fill="#97d5a4"/>
<rect x="322.44" y="324.25" width="14.10" height="17.11" fill="#aadca4"/>
<rect x="336.28" y="324.25" width="14.10" height="17.11" fill="#5e4fa2"/>
<rect x="350.13" y="324.25" width="14.10" height="17.11" fill="#b1dfa3"/>
<rect x="363.97" y="324.25" width="14.10" height="17.11" fill="#b3e0a2"/>
<rect x="377.82" y="324.25" width="14.10" height="17.11" fill="#f7fcb2"/>
<rect x="391.67" y="324.25" width="14.10" height="17.11" fill="#e4f498"/>
<rect x="405.51" y="324.25" width="14.10" height="17.11" fill="#fefebd"/>
<rect x="419.36" y="324.25" width="14.10" height="17.11" fill="#f4faad"/>
<rect x="433.21" y="324.25" width="14.10" height="17.11" fill="#fefebd"/>
<rect x="447.05" y="324.25" width="13.85" height="17.11" fill="#ebf7a0"/>
<rect x="73.20" y="341.11" width="14.10" height="17.11" fill="#feeb9d"/>
<rect x="87.05" y="341.11" width="14.10" height="17.11" fill="#feea9b"/>
<rect x="100.89" y="341.11" width="14.10" height="17.11" fill="#fcfeba"/>
<rect x="114.74" y="341.11" width="14.10" height="17.11" fill="#f8fcb4"/>
<rect x="128.59" y="341.11" width="14.10" height="17.11" fill="#fbfdb8"/>
<rect x="142.43" y="341.11" width="14.10" height="17.11" fill="#fcfeba"/>
<rect x="156.28" y="341.11" width="14.10" height="17.11" fill="#fff7b2"/>
<rect x="170.12" y="341.11" width="14.10" height="17.11" fill="#f9fcb5"/>
<rect x="183.97" y="341.11" width="14.10" height="17.11" fill="#fee593"/>
<rect x="197.82" y="341.11" width="14.10" height="17.11" fill="#feec9f"/>
<rect x="211.66" y="341.11" width="14.10" height="17.11" fill="#f7fcb2"/>
<rect x="225.51" y="341.11" width="14.10" height="17.11" fill="#fbfdb8"/>
<rect x="239.36" y="341.11" width="14.10" height="17.11" fill="#f0f9a7"/>
<rect x="253.20" y="341.11" width="14.10" height="17.11" fill="#fffab6"/>
<rect x="267.05" y="341.11" width="14.10" height="17.11" fill="#d6ee9b"/>
<rect x="280.90" y="341.11" width="14.10" height="17.11" fill="#fff0a6"/>
<rect x="294.74" y="341.11" width="14.10" height="17.11" fill="#f5fbaf"/>
<rect x="308.59" y="341.11" width="14.10" height="17.11" fill="#feeda1"/>
<rect x="322.44" y="341.11" width="14.10" height="17.11" fill="#f3faac"/>
<rect x="336.28" y="341.11" width="14.10" height="17.11" fill="#b1dfa3"/>
<rect x="350.13" y="341.11" width="14.10" height="17.11" fill="#5e4fa2"/>
<rect x="363.97" y="341.11" width="14.10" height="17.11" fill="#91d3a4"/>
<rect x="377.82" y="341.11" width="14.10" height="17.11" fill="#e7f59a"/>
<rect x="391.67" y="341.11" width="14.10" height="17.11" fill="#fff5ae"/>
<rect x="405.51" y="341.11" width="14.10" height="17.11" fill="#ffffbe"/>
<rect x="419.36" y="341.11" width="14.10" height="17.11" fill="#fee695"/>
<rect x="433.21" y="341.11" width="14.10" height="17.11" fill="#fff7b2"/>
<rect x="447.05" y="341.11" width="13.85" height="17.11" fill="#fefebd"/>
<rect x="73.20" y="357.98" width="14.10" height="17.11" fill="#fff3ac"/>
<rect x="87.05" y="357.98" width="14.10" height="17.11" fill="#fff2aa"/>
<rect x="100.89" y="357.98" width="14.10" height="17.11" fill="#bae3a1"/>
<rect x="114.74" y="357.98" width="14.10" height="17.11" fill="#caea9e"/>
<rect x="128.59" y="357.98" width="14.10" height="17.11" fill="#b5e1a2"/>
<rect x="142.43" y="357.98" width="14.10" height="17.11" fill="#c3e79f"/>
<rect x="156.28" y="357.98" width="14.10" height="17.11" fill="#feeda1"/>
<rect x="170.12" y="357.98" width="14.10" height="17.11" fill="#fff6b0"/>
<rect x="183.97" y="357.98" width="14.10" height="17.11" fill="#fffbb8"/>
<rect x="197.82" y="357.98" width="14.10" height="17.11" fill="#fdad60"/>
<rect x="211.66" y="357.98" width="14.10" height="17.11" fill="#fee18d"/>
<rect x="225.51" y="357.98" width="14.10" height="17.11" fill="#bfe5a0"/>
<rect x="239.36" y="357.98" width="14.10" height="17.11" fill="#fed07e"/>
<rect x="253.20" y="357.98" width="14.10" height="17.11" fill="#bae3a1"/>
<rect x="267.05" y="357.98" width="14.10" height="17.11" fill="#fffbb8"/>
<rect x="280.90" y="357.98" width="14.10" height="17.11" fill="#84cea5"/>
<rect x="294.74" y="357.98" width="14.10" height="17.11" fill="#f8fcb4"/>
<rect x="308.59" y="357.98" width="14.10" height="17.11" fill="#b1dfa3"/>
<rect x="322.44" y="357.98" width="14.10" height="17.11" fill="#fee695"/>
<rect x="336.28" y="357.98" width="14.10" height="17.11" fill="#b3e0a2"/>
<rect x="350.13" y="357.98" width="14.10" height="17.11" fill="#91d3a4"/>
<rect x="363.97" y="357.98" width="14.10" height="17.11" fill="#5e4fa2"/>
<rect x="377.82" y="357.98" width="14.10" height="17.11" fill="#60bba8"/>
<rect x="391.67" y="357.98" width="14.10" height="17.11" fill="#aedea3"/>
<rect x="405.51" y="357.98" width="14.10" height="17.11" fill="#ecf7a1"/>
<rect x="419.36" y="357.98" width="14.10" height="17.11" fill="#f1f9a9"/>
<rect x="433.21" y="357.98" width="14.10" height="17.11" fill="#fff1a8"/>
<rect x="447.05" y="357.98" width="13.85" height="17.11" fill="#ffffbe"/>
<rect x="73.20" y="374.84" width="14.10" height="17.11" fill="#fff3ac"/>
<rect x="87.05" y="374.84" width="14.10" height="17.11" fill="#fee695"/>
<rect x="100.89" y="374.84" width="14.10" height="17.11" fill="#e4f498"/>
<rect x="114.74" y="374.84" width="14.10" height="17.11" fill="#e7f59a"/>
<rect x="128.59" y="374.84" width="14.10" height="17.11" fill="#ddf19a"/>
<rect x="142.43" y="374.84" width="14.10" height="17.11" fill="#ebf7a0"/>
<rect x="156.28" y="374.84" width="14.10" height="17.11" fill="#fffcba"/>
<rect x="170.12" y="374.84" width="14.10" height="17.11" fill="#fffcba"/>
<rect x="183.97" y="374.84" width="14.10" height="17.11" fill="#feeb9d"/>
<rect x="197.82" y="374.84" width="14.10" height="17.11" fill="#fdc776"/>
<rect x="211.66" y="374.84" width="14.10" height="17.11" fill="#feeb9d"/>
<rect x="225.51" y="374.84" width="14.10" height="17.11" fill="#daf09a"/>
<rect x="239.36" y="374.84" width="14.10" height="17.11" fill="#fffab6"/>
<rect x="253.20" y="374.84" width="14.10" height="17.11" fill="#f4faad"/>
<rect x="267.05" y="374.84" width="14.10" height="17.11" fill="#f4faad"/>
<rect x="280.90" y="374.84" width="14.10" height="17.11" fill="#c6e89f"/>
<rect x="294.74" y="374.84" width="14.10" height="17.11" fill="#daf09a"/>
<rect x="308.59" y="374.84" width="14.10" height="17.11" fill="#e4f498"/>
<rect x="322.44" y="374.84" width="14.10" height="17.11" fill="#feeda1"/>
<rect x="336.28" y="374.84" width="14.10" height="17.11" fill="#f7fcb2"/>
<rect x="350.13" y="374.84" width="14.10" height="17.11" fill="#e7f59a"/>
<rect x="363.97" y="374.84" width="14.10" height="17.11" fill="#60bba8"/>
<rect x="377.82" y="374.84" width="14.10" height="17.11" fill="#5e4fa2"/>
<rect x="391.67" y="374.84" width="14.10" height="17.11" fill="#4ea7b0"/>
<rect x="405.51" y="374.84" width="14.10" height="17.11" fill="#b5e1a2"/>
<rect x="419.36" y="374.84" width="14.10" height="17.11" fill="#eef8a4"/>
<rect x="433.21" y="374.84" width="14.10" height="17.11" fill="#fffebe"/>
<rect x="447.05" y="374.84" width="13.85" height="17.11" fill="#fcfeba"/>
<rect x="73.20" y="391.70" width="14.10" height="17.11" fill="#fff7b2"/>
<rect x="87.05" y="391.70" width="14.10" height="17.11" fill="#feec9f"/>
<rect x="100.89" y="391.70" width="14.10" height="17.11" fill="#bae3a1"/>
<rect x="114.74" y="391.70" width="14.10" height="17.11" fill="#d1ed9c"/>
<rect x="128.59" y="391.70" width="14.10" height="17.11" fill="#b5e1a2"/>
<rect x="142.43" y="391.70" width="14.10" height="17.11" fill="#c3e79f"/>
<rect x="156.28" y="391.70" width="14.10" height="17.11" fill="#fffebe"/>
<rect x="170.12" y="391.70" width="14.10" height="17.11" fill="#fffab6"/>
<rect x="183.97" y="391.70" width="14.10" height="17.11" fill="#fffebe"/>
<rect x="197.82" y="391.70" width="14.10" height="17.11" fill="#fdb163"/>
<rect x="211.66" y="391.70" width="14.10" height="17.11" fill="#fed07e"/>
<rect x="225.51" y="391.70" width="14.10" height="17.11" fill="#c6e89f"/>
<rect x="239.36" y="391.70" width="14.10" height="17.11" fill="#fed481"/>
<rect x="253.20" y="391.70" width="14.10" height="17.11" fill="#d1ed9c"/>
<rect x="267.05" y="391.70" width="14.10" height="17.11" fill="#feec9f"/>
<rect x="280.90" y="391.70" width="14.10" height="17.11" fill="#a7dba4"/>
<rect x="294.74" y="391.70" width="14.10" height="17.11" fill="#f1f9a9"/>
<rect x="308.59" y="391.70" width="14.10" height="17.11" fill="#9fd8a4"/>
<rect x="322.44" y="391.70" width="14.10" height="17.11" fill="#fff3ac"/>
<rect x="336.28" y="391.70" width="14.10" height="17.11" fill="#e4f498"/>
<rect x="350.13" y="391.70" width="14.10" height="17.11" fill="#fff5ae"/>
<rect x="363.97" y="391.70" width="14.10" height="17.11" fill="#aedea3"/>
<rect x="377.82" y="391.70" width="14.10" height="17.11" fill="#4ea7b0"/>
<rect x="391.67" y="391.70" width="14.10" height="17.11" fill="#5e4fa2"/>
<rect x="405.51" y="391.70" width="14.10" height="17.11" fill="#5cb7aa"/>
<rect x="419.36" y="391.70" width="14.10" height="17.11" fill="#caea9e"/>
<rect x="433.21" y="391.70" width="14.10" height="17.11" fill="#fffebe"/>
<rect x="447.05" y="391.70" width="13.85" height="17.11" fill="#f3faac"/>
<rect x="73.20" y="408.56" width="14.10" height="17.11" fill="#feeda1"/>
<rect x="87.05" y="408.56" width="14.10" height="17.11" fill="#fdc574"/>
<rect x="100.89" y="408.56" width="14.10" height="17.11" fill="#ebf7a0"/>
<rect x="114.74" y="408.56" width="14.10" height="17.11" fill="#f4faad"/>
<rect x="128.59" y="408.56" width="14.10" height="17.11" fill="#eaf79e"/>
<rect x="142.43" y="408.56" width="14.10" height="17.11" fill="#eff9a6"/>
<rect x="156.28" y="408.56" width="14.10" height="17.11" fill="#f1f9a9"/>
<rect x="170.12" y="408.56" width="14.10" height="17.11" fill="#e6f598"/>
<rect x="183.97" y="408.56" width="14.10" height="17.11" fill="#feda86"/>
<rect x="197.82" y="408.56" width="14.10" height="17.11" fill="#fed884"/>
<rect x="211.66" y="408.56" width="14.10" height="17.11" fill="#feec9f"/>
<rect x="225.51" y="408.56" width="14.10" height="17.11" fill="#ebf7a0"/>
<rect x="239.36" y="408.56" width="14.10" height="17.11" fill="#feea9b"/>
<rect x="253.20" y="408.56" width="14.10" height="17.11" fill="#f5fbaf"/>
<rect x="267.05" y="408.56" width="14.10" height="17.11" fill="#fbfdb8"/>
<rect x="280.90" y="408.56" width="14.10" height="17.11" fill="#eaf79e"/>
<rect x="294.74" y="408.56" width="14.10" height="17.11" fill="#e7f59a"/>
<rect x="308.59" y="408.56" width="14.10" height="17.11" fill="#daf09a"/>
<rect x="322.44" y="408.56" width="14.10" height="17.11" fill="#fff6b0"/>
<rect x="336.28" y="408.56" width="14.10" height="17.11" fill="#fefebd"/>
<rect x="350.13" y="408.56" width="14.10" height="17.11" fill="#ffffbe"/>
<rect x="363.97" y="408.56" width="14.10" height="17.11" fill="#ecf7a1"/>
<rect x="377.82" y="408.56" width="14.10" height="17.11" fill="#b5e1a2"/>
<rect x="391.67" y="408.56" width="14.10" height="17.11" fill="#5cb7aa"/>
<rect x="405.51" y="408.56" width="14.10" height="17.11" fill="#5e4fa2"/>
<rect x="419.36" y="408.56" width="14.10" height="17.11" fill="#66c2a5"/>
<rect x="433.21" y="408.56" width="14.10" height="17.11" fill="#f1f9a9"/>
<rect x="447.05" y="408.56" width="13.85" height="17.11" fill="#fffebe"/>
<rect x="73.20" y="425.42" width="14.10" height="17.11" fill="#fff6b0"/>
<rect x="87.05" y="425.42" width="14.10" height="17.11" fill="#feeda1"/>
<rect x="100.89" y="425.42" width="14.10" height="17.11" fill="#cfec9d"/>
<rect x="114.74" y="425.42" width="14.10" height="17.11" fill="#e8f69b"/>
<rect x="128.59" y="425.42" width="14.10" height="17.11" fill="#d1ed9c"/>
<rect x="142.43" y="425.42" width="14.10" height="17.11" fill="#d1ed9c"/>
<rect x="156.28" y="425.42" width="14.10" height="17.11" fill="#fff7b2"/>
<rect x="170.12" y="425.42" width="14.10" height="17.11" fill="#fefebd"/>
<rect x="183.97" y="425.42" width="14.10" height="17.11" fill="#fff3ac"/>
<rect x="197.82" y="425.42" width="14.10" height="17.11" fill="#fdc574"/>
<rect x="211.66" y="425.42" width="14.10" height="17.11" fill="#fee593"/>
<rect x="225.51" y="425.42" width="14.10" height="17.11" fill="#e8f69b"/>
<rect x="239.36" y="425.42" width="14.10" height="17.11" fill="#fee28f"/>
<rect x="253.20" y="425.42" width="14.10" height="17.11" fill="#dff299"/>
<rect x="267.05" y="425.42" width="14.10" height="17.11" fill="#fff1a8"/>
<rect x="280.90" y="425.42" width="14.10" height="17.11" fill="#c8e99e"/>
<rect x="294.74" y="425.42" width="14.10" height="17.11" fill="#eff9a6"/>
<rect x="308.59" y="425.42" width="14.10" height="17.11" fill="#b5e1a2"/>
<rect x="322.44" y="425.42" width="14.10" height="17.11" fill="#fff7b2"/>
<rect x="336.28" y="425.42" width="14.10" height="17.11" fill="#f4faad"/>
<rect x="350.13" y="425.42" width="14.10" height="17.11" fill="#fee695"/>
<rect x="363.97" y="425.42" width="14.10" height="17.11" fill="#f1f9a9"/>
<rect x="377.82" y="425.42" width="14.10" height="17.11" fill="#eef8a4"/>
<rect x="391.67" y="425.42" width="14.10" height="17.11" fill="#caea9e"/>
<rect x="405.51" y="425.42" width="14.10" height="17.11" fill="#66c2a5"/>
<rect x="419.36" y="425.42" width="14.10" height="17.11" fill="#5e4fa2"/>
<rect x="433.21" y="425.42" width="14.10" height="17.11" fill="#a4daa4"/>
<rect x="447.05" y="425.42" width="13.85" height="17.11" fill="#fff7b2"/>
<rect x="73.20" y="442.28" width="14.10" height="17.11" fill="#fff5ae"/>
<rect x="87.05" y="442.28" width="14.10" height="17.11" fill="#fed683"/>
<rect x="100.89" y="442.28" width="14.10" height="17.11" fill="#feec9f"/>
<rect x="114.74" y="442.28" width="14.10" height="17.11" fill="#fff0a6"/>
<rect x="128.59" y="442.28" width="14.10" height="17.11" fill="#fff0a6"/>
<rect x="142.43" y="442.28" width="14.10" height="17.11" fill="#feeb9d"/>
<rect x="156.28" y="442.28" width="14.10" height="17.11" fill="#eff9a6"/>
<rect x="170.12" y="442.28" width="14.10" height="17.11" fill="#e8f69b"/>
<rect x="183.97" y="442.28" width="14.10" height="17.11" fill="#fed481"/>
<rect x="197.82" y="442.28" width="14.10" height="17.11" fill="#f7fcb2"/>
<rect x="211.66" y="442.28" width="14.10" height="17.11" fill="#ffffbe"/>
<rect x="225.51" y="442.28" width="14.10" height="17.11" fill="#f9fcb5"/>
<rect x="239.36" y="442.28" width="14.10" height="17.11" fill="#fefebd"/>
<rect x="253.20" y="442.28" width="14.10" height="17.11" fill="#ffffbe"/>
<rect x="267.05" y="442.28" width="14.10" height="17.11" fill="#fffab6"/>
<rect x="280.90" y="442.28" width="14.10" height="17.11" fill="#fff7b2"/>
<rect x="294.74" y="442.28" width="14.10" height="17.11" fill="#ffffbe"/>
<rect x="308.59" y="442.28" width="14.10" height="17.11" fill="#f6fbb0"/>
<rect x="322.44" y="442.28" width="14.10" height="17.11" fill="#f3faac"/>
<rect x="336.28" y="442.28" width="14.10" height="17.11" fill="#fefebd"/>
<rect x="350.13" y="442.28" width="14.10" height="17.11" fill="#fff7b2"/>
<rect x="363.97" y="442.28" width="14.10" height="17.11" fill="#fff1a8"/>
<rect x="377.82" y="442.28" width="14.10" height="17.11" fill="#fffebe"/>
<rect x="391.67" y="442.28" width="14.10" height="17.11" fill="#fffebe"/>
<rect x="405.51" y="442.28" width="14.10" height="17.11" fill="#f1f9a9"/>
<rect x="419.36" y="442.28" width="14.10" height="17.11" fill="#a4daa4"/>
<rect x="433.21" y="442.28" width="14.10" height="17.11" fill="#5e4fa2"/>
<rect x="447.05" y="442.28" width="13.85" height="17.11" fill="#99d6a4"/>
<rect x="73.20" y="459.14" width="14.10" height="16.86" fill="#fffebe"/>
<rect x="87.05" y="459.14" width="14.10" height="16.86" fill="#fff0a6"/>
<rect x="100.89" y="459.14" width="14.10" height="16.86" fill="#fcfeba"/>
<rect x="114.74" y="459.14" width="14.10" height="16.86" fill="#f4faad"/>
<rect x="128.59" y="459.14" width="14.10" height="16.86" fill="#f9fcb5"/>
<rect x="142.43" y="459.14" width="14.10" height="16.86" fill="#ffffbe"/>
<rect x="156.28" y="459.14" width="14.10" height="16.86" fill="#fffbb8"/>
<rect x="170.12" y="459.14" width="14.10" height="16.86" fill="#fffab6"/>
<rect x="183.97" y="459.14" width="14.10" height="16.86" fill="#feec9f"/>
<rect x="197.82" y="459.14" width="14.10" height="16.86" fill="#fff1a8"/>
<rect x="211.66" y="459.14" width="14.10" height="16.86" fill="#fffbb8"/>
<rect x="225.51" y="459.14" width="14.10" height="16.86" fill="#f5fbaf"/>
<rect x="239.36" y="459.14" width="14.10" height="16.86" fill="#fdfebb"/>
<rect x="253.20" y="459.14" width="14.10" height="16.86" fill="#f9fcb5"/>
<rect x="267.05" y="459.14" width="14.10" height="16.86" fill="#fcfeba"/>
<rect x="280.90" y="459.14" width="14.10" height="16.86" fill="#f8fcb4"/>
<rect x="294.74" y="459.14" width="14.10" height="16.86" fill="#fdfebb"/>
<rect x="308.59" y="459.14" width="14.10" height="16.86" fill="#fbfdb8"/>
<rect x="322.44" y="459.14" width="14.10" height="16.86" fill="#f1f9a9"/>
<rect x="336.28" y="459.14" width="14.10" height="16.86" fill="#ebf7a0"/>
<rect x="350.13" y="459.14" width="14.10" height="16.86" fill="#fefebd"/>
<rect x="363.97" y="459.14" width="14.10" height="16.86" fill="#ffffbe"/>
<rect x="377.82" y="459.14" width="14.10" height="16.86" fill="#fcfeba"/>
<rect x="391.67" y="459.14" width="14.10" height="16.86" fill="#f3faac"/>
<rect x="405.51" y="459.14" width="14.10" height="16.86" fill="#fffebe"/>
<rect x="419.36" y="459.14" width="14.10" height="16.86" fill="#fff7b2"/>
<rect x="433.21" y="459.14" width="14.10" height="16.86" fill="#99d6a4"/>
<rect x="447.05" y="459.14" width="13.85" height="16.86" fill="#5e4fa2"/>
</g>
<g transform="rotate(0.03 261 275)">
<text class="a w" x="80.12" y="13.23">1</text>
<text class="a" x="93.97" y="13.23">0.16</text>
<text class="a" x="107.82" y="13.23">0.073</text>
<text class="a" x="121.66" y="13.23">0.23</text>
<text class="a" x="135.51" y="13.23">0.19</text>
<text class="a" x="149.36" y="13.23">-0.1</text>
<text class="a" x="163.20" y="13.23">0.0093</text>
<text class="a" x="177.05" y="13.23">-0.26</text>
<text class="a" x="190.89" y="13.23">0.23</text>
<text class="a" x="204.74" y="13.23">0.027</text>
<text class="a" x="218.59" y="13.23">-0.074</text>
<text class="a" x="232.43" y="13.23">0.14</text>
<text class="a" x="246.28" y="13.23">0.13</text>
<text class="a" x="260.13" y="13.23">0.1</text>
<text class="a" x="273.97" y="13.23">0.097</text>
<text class="a" x="287.82" y="13.23">0.072</text>
<text class="a" x="301.67" y="13.23">0.062</text>
<text class="a" x="315.51" y="13.23">0.0083</text>
<text class="a" x="329.36" y="13.23">0.083</text>
<text class="a" x="343.21" y="13.23">-0.015</text>
<text class="a" x="357.05" y="13.23">-0.13</text>
<text class="a" x="370.90" y="13.23">-0.077</text>
<text class="a" x="384.74" y="13.23">-0.071</text>
<text class="a" x="398.59" y="13.23">-0.047</text>
<text class="a" x="412.44" y="13.23">-0.11</text>
<text class="a" x="426.28" y="13.23">-0.06</text>
<text class="a" x="440.13" y="13.23">-0.066</text>
<text class="a" x="453.98" y="13.23">-0.0043</text>
<text class="a" x="80.12" y="30.09">0.16</text>
<text class="a w" x="93.97" y="30.09">1</text>
<text class="a" x="107.82" y="30.09">0.27</text>
<text class="a" x="121.66" y="30.09">0.15</text>
<text class="a" x="135.51" y="30.09">0.21</text>
<text class="a" x="149.36" y="30.09">0.28</text>
<text class="a" x="163.20" y="30.09">-0.24</text>
<text class="a w" x="177.05" y="30.09">-0.57</text>
<text class="a w" x="190.89" y="30.09">0.82</text>
<text class="a" x="204.74" y="30.09">-0.12</text>
<text class="a" x="218.59" y="30.09">-0.29</text>
<text class="a" x="232.43" y="30.09">-0.16</text>
<text class="a" x="246.28" y="30.09">-0.0019</text>
<text class="a" x="260.13" y="30.09">-0.076</text>
<text class="a" x="273.97" y="30.09">-0.068</text>
<text class="a" x="287.82" y="30.09">-0.043</text>
<text class="a" x="301.67" y="30.09">-0.15</text>
<text class="a" x="315.51" y="30.09">-0.063</text>
<text class="a" x="329.36" y="30.09">0.027</text>
<text class="a" x="343.21" y="30.09">-0.0074</text>
<text class="a" x="357.05" y="30.09">-0.14</text>
<text class="a" x="370.90" y="30.09">-0.082</text>
<text class="a" x="384.74" y="30.09">-0.16</text>
<text class="a" x="398.59" y="30.09">-0.12</text>
<text class="a" x="412.44" y="30.09">-0.31</text>
<text class="a" x="426.28" y="30.09">-0.11</text>
<text class="a" x="440.13" y="30.09">-0.24</text>
<text class="a" x="453.98" y="30.09">-0.098</text>
<text class="a" x="80.12" y="46.95">0.073</text>
<text class="a" x="93.97" y="46.95">0.27</text>
<text class="a w" x="107.82" y="46.95">1</text>
<text class="a w" x="121.66" y="46.95">0.79</text>
<text class="a w" x="135.51" y="46.95">0.97</text>
<text class="a w" x="149.36" y="46.95">0.9</text>
<text class="a" x="163.20" y="46.95">-0.18</text>
<text class="a" x="177.05" y="46.95">-0.33</text>
<text class="a" x="190.89" y="46.95">0.49</text>
<text class="a w" x="204.74" y="46.95">-0.91</text>
<text class="a w" x="218.59" y="46.95">-0.51</text>
<text class="a" x="232.43" y="46.95">0.27</text>
<text class="a" x="246.28" y="46.95">-0.39</text>
<text class="a" x="260.13" y="46.95">0.35</text>
<text class="a" x="273.97" y="46.95">-0.12</text>
<text class="a" x="287.82" y="46.95">0.48</text>
<text class="a" x="301.67" y="46.95">0.064</text>
<text class="a" x="315.51" y="46.95">0.42</text>
<text class="a" x="329.36" y="46.95">-0.03</text>
<text class="a" x="343.21" y="46.95">0.31</text>
<text class="a" x="357.05" y="46.95">0.029</text>
<text class="a" x="370.90" y="46.95">0.35</text>
<text class="a" x="384.74" y="46.95">0.21</text>
<text class="a" x="398.59" y="46.95">0.35</text>
<text class="a" x="412.44" y="46.95">0.16</text>
<text class="a" x="426.28" y="46.95">0.28</text>
<text class="a" x="440.13" y="46.95">-0.12</text>
<text class="a" x="453.98" y="46.95">0.029</text>
<text class="a" x="80.12" y="63.81">0.23</text>
<text class="a" x="93.97" y="63.81">0.15</text>
<text class="a w" x="107.82" y="63.81">0.79</text>
<text class="a w" x="121.66" y="63.81">1</text>
<text class="a w" x="135.51" y="63.81">0.94</text>
<text class="a" x="149.36" y="63.81">0.52</text>
<text class="a" x="163.20" y="63.81">-0.18</text>
<text class="a" x="177.05" y="63.81">-0.3</text>
<text class="a" x="190.89" y="63.81">0.27</text>
<text class="a w" x="204.74" y="63.81">-0.83</text>
<text class="a" x="218.59" y="63.81">-0.042</text>
<text class="a" x="232.43" y="63.81">0.24</text>
<text class="a" x="246.28" y="63.81">-0.11</text>
<text class="a" x="260.13" y="63.81">0.37</text>
<text class="a" x="273.97" y="63.81">0.13</text>
<text class="a" x="287.82" y="63.81">0.41</text>
<text class="a" x="301.67" y="63.81">0.13</text>
<text class="a" x="315.51" y="63.81">0.3</text>
<text class="a" x="329.36" y="63.81">0.11</text>
<text class="a" x="343.21" y="63.81">0.28</text>
<text class="a" x="357.05" y="63.81">0.059</text>
<text class="a" x="370.90" y="63.81">0.29</text>
<text class="a" x="384.74" y="63.81">0.19</text>
<text class="a" x="398.59" y="63.81">0.27</text>
<text class="a" x="412.44" y="63.81">0.093</text>
<text class="a" x="426.28" y="63.81">0.18</text>
<text class="a" x="440.13" y="63.81">-0.094</text>
<text class="a" x="453.98" y="63.81">0.086</text>
<text class="a" x="80.12" y="80.67">0.19</text>
<text class="a" x="93.97" y="80.67">0.21</text>
<text class="a w" x="107.82" y="80.67">0.97</text>
<text class="a w" x="121.66" y="80.67">0.94</text>
<text class="a w" x="135.51" y="80.67">1</text>
<text class="a w" x="149.36" y="80.67">0.8</text>
<text class="a" x="163.20" y="80.67">-0.098</text>
<text class="a" x="177.05" y="80.67">-0.3</text>
<text class="a" x="190.89" y="80.67">0.46</text>
<text class="a w" x="204.74" y="80.67">-0.89</text>
<text class="a" x="218.59" y="80.67">-0.48</text>
<text class="a" x="232.43" y="80.67">0.38</text>
<text class="a" x="246.28" y="80.67">-0.36</text>
<text class="a" x="260.13" y="80.67">0.4</text>
<text class="a" x="273.97" y="80.67">-0.086</text>
<text class="a" x="287.82" y="80.67">0.51</text>
<text class="a" x="301.67" y="80.67">0.084</text>
<text class="a" x="315.51" y="80.67">0.46</text>
<text class="a" x="329.36" y="80.67">-0.02</text>
<text class="a" x="343.21" y="80.67">0.32</text>
<text class="a" x="357.05" y="80.67">0.032</text>
<text class="a" x="370.90" y="80.67">0.36</text>
<text class="a" x="384.74" y="80.67">0.23</text>
<text class="a" x="398.59" y="80.67">0.36</text>
<text class="a" x="412.44" y="80.67">0.17</text>
<text class="a" x="426.28" y="80.67">0.27</text>
<text class="a" x="440.13" y="80.67">-0.1</text>
<text class="a" x="453.98" y="80.67">0.049</text>
<text class="a" x="80.12" y="97.53">-0.1</text>
<text class="a" x="93.97" y="97.53">0.28</text>
<text class="a w" x="107.82" y="97.53">0.9</text>
<text class="a" x="121.66" y="97.53">0.52</text>
<text class="a w" x="135.51" y="97.53">0.8</text>
<text class="a w" x="149.36" y="97.53">1</text>
<text class="a" x="163.20" y="97.53">-0.23</text>
<text class="a" x="177.05" y="97.53">-0.31</text>
<text class="a" x="190.89" y="97.53">0.48</text>
<text class="a w" x="204.74" y="97.53">-0.76</text>
<text class="a w" x="218.59" y="97.53">-0.6</text>
<text class="a" x="232.43" y="97.53">0.17</text>
<text class="a" x="246.28" y="97.53">-0.43</text>
<text class="a" x="260.13" y="97.53">0.32</text>
<text class="a" x="273.97" y="97.53">-0.21</text>
<text class="a" x="287.82" y="97.53">0.42</text>
<text class="a" x="301.67" y="97.53">0.017</text>
<text class="a" x="315.51" y="97.53">0.42</text>
<text class="a" x="329.36" y="97.53">-0.045</text>
<text class="a" x="343.21" y="97.53">0.3</text>
<text class="a" x="357.05" y="97.53">0.024</text>
<text class="a" x="370.90" y="97.53">0.32</text>
<text class="a" x="384.74" y="97.53">0.16</text>
<text class="a" x="398.59" y="97.53">0.32</text>
<text class="a" x="412.44" y="97.53">0.13</text>
<text class="a" x="426.28" y="97.53">0.27</text>
<text class="a" x="440.13" y="97.53">-0.13</text>
<text class="a" x="453.98" y="97.53">0.0073</text>
<text class="a" x="80.12" y="114.39">0.0093</text>
<text class="a" x="93.97" y="114.39">-0.24</text>
<text class="a" x="107.82" y="114.39">-0.18</text>
<text class="a" x="121.66" y="114.39">-0.18</text>
<text class="a" x="135.51" y="114.39">-0.098</text>
<text class="a" x="149.36" y="114.39">-0.23</text>
<text class="a w" x="163.20" y="114.39">1</text>
<text class="a" x="177.05" y="114.39">0.6</text>
<text class="a" x="190.89" y="114.39">-0.12</text>
<text class="a" x="204.74" y="114.39">0.18</text>
<text class="a" x="218.59" y="114.39">-0.085</text>
<text class="a" x="232.43" y="114.39">0.052</text>
<text class="a" x="246.28" y="114.39">-0.095</text>
<text class="a" x="260.13" y="114.39">-0.007</text>
<text class="a" x="273.97" y="114.39">-0.031</text>
<text class="a" x="287.82" y="114.39">-0.13</text>
<text class="a" x="301.67" y="114.39">-0.061</text>
<text class="a" x="315.51" y="114.39">-0.075</text>
<text class="a" x="329.36" y="114.39">-0.27</text>
<text class="a" x="343.21" y="114.39">-0.25</text>
<text class="a" x="357.05" y="114.39">-0.049</text>
<text class="a" x="370.90" y="114.39">-0.11</text>
<text class="a" x="384.74" y="114.39">-0.021</text>
<text class="a" x="398.59" y="114.39">-0.0068</text>
<text class="a" x="412.44" y="114.39">0.11</text>
<text class="a" x="426.28" y="114.39">-0.052</text>
<text class="a" x="440.13" y="114.39">0.13</text>
<text class="a" x="453.98" y="114.39">-0.028</text>
<text class="a" x="80.12" y="131.25">-0.26</text>
<text class="a w" x="93.97" y="131.25">-0.57</text>
<text class="a" x="107.82" y="131.25">-0.33</text>
<text class="a" x="121.66" y="131.25">-0.3</text>
<text class="a" x="135.51" y="131.25">-0.3</text>
<text class="a" x="149.36" y="131.25">-0.31</text>
<text class="a" x="163.20" y="131.25">0.6</text>
<text class="a w" x="177.05" y="131.25">1</text>
<text class="a" x="190.89" y="131.25">-0.48</text>
<text class="a" x="204.74" y="131.25">0.25</text>
<text class="a" x="218.59" y="131.25">0.15</text>
<text class="a" x="232.43" y="131.25">-0.1</text>
<text class="a" x="246.28" y="131.25">-0.12</text>
<text class="a" x="260.13" y="131.25">-0.13</text>
<text class="a" x="273.97" y="131.25">-0.021</text>
<text class="a" x="287.82" y="131.25">-0.19</text>
<text class="a" x="301.67" y="131.25">-0.034</text>
<text class="a" x="315.51" y="131.25">-0.092</text>
<text class="a" x="329.36" y="131.25">-0.21</text>
<text class="a" x="343.21" y="131.25">-0.21</text>
<text class="a" x="357.05" y="131.25">0.047</text>
<text class="a" x="370.90" y="131.25">-0.055</text>
<text class="a" x="384.74" y="131.25">-0.021</text>
<text class="a" x="398.59" y="131.25">-0.036</text>
<text class="a" x="412.44" y="131.25">0.2</text>
<text class="a" x="426.28" y="131.25">0.0087</text>
<text class="a" x="440.13" y="131.25">0.18</text>
<text class="a" x="453.98" y="131.25">-0.038</text>
<text class="a" x="80.12" y="148.12">0.23</text>
<text class="a w" x="93.97" y="148.12">0.82</text>
<text class="a" x="107.82" y="148.12">0.49</text>
<text class="a" x="121.66" y="148.12">0.27</text>
<text class="a" x="135.51" y="148.12">0.46</text>
<text class="a" x="149.36" y="148.12">0.48</text>
<text class="a" x="163.20" y="148.12">-0.12</text>
<text class="a" x="177.05" y="148.12">-0.48</text>
<text class="a w" x="190.89" y="148.12">1</text>
<text class="a" x="204.74" y="148.12">-0.25</text>
<text class="a w" x="218.59" y="148.12">-0.57</text>
<text class="a" x="232.43" y="148.12">-0.029</text>
<text class="a" x="246.28" y="148.12">-0.28</text>
<text class="a" x="260.13" y="148.12">0.025</text>
<text class="a" x="273.97" y="148.12">-0.22</text>
<text class="a" x="287.82" y="148.12">0.053</text>
<text class="a" x="301.67" y="148.12">-0.24</text>
<text class="a" x="315.51" y="148.12">0.033</text>
<text class="a" x="329.36" y="148.12">-0.09</text>
<text class="a" x="343.21" y="148.12">0.027</text>
<text class="a" x="357.05" y="148.12">-0.17</text>
<text class="a" x="370.90" y="148.12">-0.025</text>
<text class="a" x="384.74" y="148.12">-0.13</text>
<text class="a" x="398.59" y="148.12">-0.00034</text>
<text class="a" x="412.44" y="148.12">-0.22</text>
<text class="a" x="426.28" y="148.12">-0.073</text>
<text class="a" x="440.13" y="148.12">-0.25</text>
<text class="a" x="453.98" y="148.12">-0.12</text>
<text class="a" x="80.12" y="164.98">0.027</text>
<text class="a" x="93.97" y="164.98">-0.12</text>
<text class="a w" x="107.82" y="164.98">-0.91</text>
<text class="a w" x="121.66" y="164.98">-0.83</text>
<text class="a w" x="135.51" y="164.98">-0.89</text>
<text class="a w" x="149.36" y="164.98">-0.76</text>
<text class="a" x="163.20" y="164.98">0.18</text>
<text class="a" x="177.05" y="164.98">0.25</text>
<text class="a" x="190.89" y="164.98">-0.25</text>
<text class="a w" x="204.74" y="164.98">1</text>
<text class="a" x="218.59" y="164.98">0.32</text>
<text class="a" x="232.43" y="164.98">-0.33</text>
<text class="a" x="246.28" y="164.98">0.26</text>
<text class="a" x="260.13" y="164.98">-0.38</text>
<text class="a" x="273.97" y="164.98">-0.011</text>
<text class="a w" x="287.82" y="164.98">-0.51</text>
<text class="a" x="301.67" y="164.98">-0.17</text>
<text class="a" x="315.51" y="164.98">-0.44</text>
<text class="a" x="329.36" y="164.98">-0.029</text>
<text class="a" x="343.21" y="164.98">-0.35</text>
<text class="a" x="357.05" y="164.98">-0.12</text>
<text class="a" x="370.90" y="164.98">-0.4</text>
<text class="a" x="384.74" y="164.98">-0.3</text>
<text class="a" x="398.59" y="164.98">-0.39</text>
<text class="a" x="412.44" y="164.98">-0.23</text>
<text class="a" x="426.28" y="164.98">-0.31</text>
<text class="a" x="440.13" y="164.98">0.065</text>
<text class="a" x="453.98" y="164.98">-0.09</text>
<text class="a" x="80.12" y="181.84">-0.074</text>
<text class="a" x="93.97" y="181.84">-0.29</text>
<text class="a w" x="107.82" y="181.84">-0.51</text>
<text class="a" x="121.66" y="181.84">-0.042</text>
<text class="a" x="135.51" y="181.84">-0.48</text>
<text class="a w" x="149.36" y="181.84">-0.6</text>
<text class="a" x="163.20" y="181.84">-0.085</text>
<text class="a" x="177.05" y="181.84">0.15</text>
<text class="a w" x="190.89" y="181.84">-0.57</text>
<text class="a" x="204.74" y="181.84">0.32</text>
<text class="a w" x="218.59" y="181.84">1</text>
<text class="a" x="232.43" y="181.84">-0.23</text>
<text class="a" x="246.28" y="181.84">0.53</text>
<text class="a" x="260.13" y="181.84">-0.09</text>
<text class="a" x="273.97" y="181.84">0.34</text>
<text class="a" x="287.82" y="181.84">-0.24</text>
<text class="a" x="301.67" y="181.84">0.15</text>
<text class="a" x="315.51" y="181.84">-0.26</text>
<text class="a" x="329.36" y="181.84">0.16</text>
<text class="a" x="343.21" y="181.84">-0.13</text>
<text class="a" x="357.05" y="181.84">0.066</text>
<text class="a" x="370.90" y="181.84">-0.19</text>
<text class="a" x="384.74" y="181.84">-0.13</text>
<text class="a" x="398.59" y="181.84">-0.26</text>
<text class="a" x="412.44" y="181.84">-0.12</text>
<text class="a" x="426.28" y="181.84">-0.17</text>
<text class="a" x="440.13" y="181.84">0.0054</text>
<text class="a" x="453.98" y="181.84">-0.026</text>
<text class="a" x="80.12" y="198.70">0.14</text>
<text class="a" x="93.97" y="198.70">-0.16</text>
<text class="a" x="107.82" y="198.70">0.27</text>
<text class="a" x="121.66" y="198.70">0.24</text>
<text class="a" x="135.51" y="198.70">0.38</text>
<text class="a" x="149.36" y="198.70">0.17</text>
<text class="a" x="163.20" y="198.70">0.052</text>
<text class="a" x="177.05" y="198.70">-0.1</text>
<text class="a" x="190.89" y="198.70">-0.029</text>
<text class="a" x="204.74" y="198.70">-0.33</text>
<text class="a" x="218.59" y="198.70">-0.23</text>
<text class="a w" x="232.43" y="198.70">1</text>
<text class="a" x="246.28" y="198.70">-0.069</text>
<text class="a" x="260.13" y="198.70">0.58</text>
<text class="a" x="273.97" y="198.70">-0.097</text>
<text class="a" x="287.82" y="198.70">0.57</text>
<text class="a" x="301.67" y="198.70">0.12</text>
<text class="a" x="315.51" y="198.70">0.56</text>
<text class="a" x="329.36" y="198.70">-0.11</text>
<text class="a" x="343.21" y="198.70">0.4</text>
<text class="a" x="357.05" y="198.70">0.035</text>
<text class="a" x="370.90" y="198.70">0.33</text>
<text class="a" x="384.74" y="198.70">0.24</text>
<text class="a" x="398.59" y="198.70">0.31</text>
<text class="a" x="412.44" y="198.70">0.16</text>
<text class="a" x="426.28" y="198.70">0.18</text>
<text class="a" x="440.13" y="198.70">0.049</text>
<text class="a" x="453.98" y="198.70">0.082</text>
<text class="a" x="80.12" y="215.56">0.13</text>
<text class="a" x="93.97" y="215.56">-0.0019</text>
<text class="a" x="107.82" y="215.56">-0.39</text>
<text class="a" x="121.66" y="215.56">-0.11</text>
<text class="a" x="135.51" y="215.56">-0.36</text>
<text class="a" x="149.36" y="215.56">-0.43</text>
<text class="a" x="163.20" y="215.56">-0.095</text>
<text class="a" x="177.05" y="215.56">-0.12</text>
<text class="a" x="190.89" y="215.56">-0.28</text>
<text class="a" x="204.74" y="215.56">0.26</text>
<text class="a" x="218.59" y="215.56">0.53</text>
<text class="a" x="232.43" y="215.56">-0.069</text>
<text class="a w" x="246.28" y="215.56">1</text>
<text class="a" x="260.13" y="215.56">-0.15</text>
<text class="a" x="273.97" y="215.56">0.57</text>
<text class="a" x="287.82" y="215.56">-0.25</text>
<text class="a" x="301.67" y="215.56">0.37</text>
<text class="a" x="315.51" y="215.56">-0.33</text>
<text class="a" x="329.36" y="215.56">0.25</text>
<text class="a" x="343.21" y="215.56">-0.2</text>
<text class="a" x="357.05" y="215.56">0.12</text>
<text class="a" x="370.90" y="215.56">-0.26</text>
<text class="a" x="384.74" y="215.56">-0.038</text>
<text class="a" x="398.59" y="215.56">-0.25</text>
<text class="a" x="412.44" y="215.56">-0.14</text>
<text class="a" x="426.28" y="215.56">-0.18</text>
<text class="a" x="440.13" y="215.56">0.013</text>
<text class="a" x="453.98" y="215.56">0.022</text>
<text class="a" x="80.12" y="232.42">0.1</text>
<text class="a" x="93.97" y="232.42">-0.076</text>
<text class="a" x="107.82" y="232.42">0.35</text>
<text class="a" x="121.66" y="232.42">0.37</text>
<text class="a" x="135.51" y="232.42">0.4</text>
<text class="a" x="149.36" y="232.42">0.32</text>
<text class="a" x="163.20" y="232.42">-0.007</text>
<text class="a" x="177.05" y="232.42">-0.13</text>
<text class="a" x="190.89" y="232.42">0.025</text>
<text class="a" x="204.74" y="232.42">-0.38</text>
<text class="a" x="218.59" y="232.42">-0.09</text>
<text class="a" x="232.43" y="232.42">0.58</text>
<text class="a" x="246.28" y="232.42">-0.15</text>
<text class="a w" x="260.13" y="232.42">1</text>
<text class="a" x="273.97" y="232.42">0.016</text>
<text class="a w" x="287.82" y="232.42">0.64</text>
<text class="a" x="301.67" y="232.42">0.028</text>
<text class="a" x="315.51" y="232.42">0.62</text>
<text class="a" x="329.36" y="232.42">-0.079</text>
<text class="a" x="343.21" y="232.42">0.44</text>
<text class="a" x="357.05" y="232.42">-0.033</text>
<text class="a" x="370.90" y="232.42">0.35</text>
<text class="a" x="384.74" y="232.42">0.09</text>
<text class="a" x="398.59" y="232.42">0.27</text>
<text class="a" x="412.44" y="232.42">0.083</text>
<text class="a" x="426.28" y="232.42">0.22</text>
<text class="a" x="440.13" y="232.42">0.0015</text>
<text class="a" x="453.98" y="232.42">0.052</text>
<text class="a" x="80.12" y="249.28">0.097</text>
<text class="a" x="93.97" y="249.28">-0.068</text>
<text class="a" x="107.82" y="249.28">-0.12</text>
<text class="a" x="121.66" y="249.28">0.13</text>
<text class="a" x="135.51" y="249.28">-0.086</text>
<text class="a" x="149.36" y="249.28">-0.21</text>
<text class="a" x="163.20" y="249.28">-0.031</text>
<text class="a" x="177.05" y="249.28">-0.021</text>
<text class="a" x="190.89" y="249.28">-0.22</text>
<text class="a" x="204.74" y="249.28">-0.011</text>
<text class="a" x="218.59" y="249.28">0.34</text>
<text class="a" x="232.43" y="249.28">-0.097</text>
<text class="a" x="246.28" y="249.28">0.57</text>
<text class="a" x="260.13" y="249.28">0.016</text>
<text class="a w" x="273.97" y="249.28">1</text>
<text class="a" x="287.82" y="249.28">-0.014</text>
<text class="a" x="301.67" y="249.28">0.49</text>
<text class="a" x="315.51" y="249.28">-0.21</text>
<text class="a" x="329.36" y="249.28">0.22</text>
<text class="a" x="343.21" y="249.28">-0.17</text>
<text class="a" x="357.05" y="249.28">0.25</text>
<text class="a" x="370.90" y="249.28">-0.029</text>
<text class="a" x="384.74" y="249.28">0.088</text>
<text class="a" x="398.59" y="249.28">-0.12</text>
<text class="a" x="412.44" y="249.28">0.032</text>
<text class="a" x="426.28" y="249.28">-0.086</text>
<text class="a" x="440.13" y="249.28">-0.032</text>
<text class="a" x="453.98" y="249.28">0.026</text>
<text class="a" x="80.12" y="266.14">0.072</text>
<text class="a" x="93.97" y="266.14">-0.043</text>
<text class="a" x="107.82" y="266.14">0.48</text>
<text class="a" x="121.66" y="266.14">0.41</text>
<text class="a" x="135.51" y="266.14">0.51</text>
<text class="a" x="149.36" y="266.14">0.42</text>
<text class="a" x="163.20" y="266.14">-0.13</text>
<text class="a" x="177.05" y="266.14">-0.19</text>
<text class="a" x="190.89" y="266.14">0.053</text>
<text class="a w" x="204.74" y="266.14">-0.51</text>
<text class="a" x="218.59" y="266.14">-0.24</text>
<text class="a" x="232.43" y="266.14">0.57</text>
<text class="a" x="246.28" y="266.14">-0.25</text>
<text class="a w" x="260.13" y="266.14">0.64</text>
<text class="a" x="273.97" y="266.14">-0.014</text>
<text class="a w" x="287.82" y="266.14">1</text>
<text class="a" x="301.67" y="266.14">0.11</text>
<text class="a w" x="315.51" y="266.14">0.66</text>
<text class="a" x="329.36" y="266.14">-0.21</text>
<text class="a" x="343.21" y="266.14">0.39</text>
<text class="a" x="357.05" y="266.14">-0.095</text>
<text class="a" x="370.90" y="266.14">0.51</text>
<text class="a" x="384.74" y="266.14">0.31</text>
<text class="a" x="398.59" y="266.14">0.41</text>
<text class="a" x="412.44" y="266.14">0.17</text>
<text class="a" x="426.28" y="266.14">0.3</text>
<text class="a" x="440.13" y="266.14">-0.052</text>
<text class="a" x="453.98" y="266.14">0.06</text>
<text class="a" x="80.12" y="283.00">0.062</text>
<text class="a" x="93.97" y="283.00">-0.15</text>
<text class="a" x="107.82" y="283.00">0.064</text>
<text class="a" x="121.66" y="283.00">0.13</text>
<text class="a" x="135.51" y="283.00">0.084</text>
<text class="a" x="149.36" y="283.00">0.017</text>
<text class="a" x="163.20" y="283.00">-0.061</text>
<text class="a" x="177.05" y="283.00">-0.034</text>
<text class="a" x="190.89" y="283.00">-0.24</text>
<text class="a" x="204.74" y="283.00">-0.17</text>
<text class="a" x="218.59" y="283.00">0.15</text>
<text class="a" x="232.43" y="283.00">0.12</text>
<text class="a" x="246.28" y="283.00">0.37</text>
<text class="a" x="260.13" y="283.00">0.028</text>
<text class="a" x="273.97" y="283.00">0.49</text>
<text class="a" x="287.82" y="283.00">0.11</text>
<text class="a w" x="301.67" y="283.00">1</text>
<text class="a" x="315.51" y="283.00">0.23</text>
<text class="a" x="329.36" y="283.00">0.012</text>
<text class="a" x="343.21" y="283.00">-0.22</text>
<text class="a" x="357.05" y="283.00">0.081</text>
<text class="a" x="370.90" y="283.00">0.062</text>
<text class="a" x="384.74" y="283.00">0.24</text>
<text class="a" x="398.59" y="283.00">0.11</text>
<text class="a" x="412.44" y="283.00">0.19</text>
<text class="a" x="426.28" y="283.00">0.13</text>
<text class="a" x="440.13" y="283.00">0.007</text>
<text class="a" x="453.98" y="283.00">0.023</text>
<text class="a" x="80.12" y="299.86">0.0083</text>
<text class="a" x="93.97" y="299.86">-0.063</text>
<text class="a" x="107.82" y="299.86">0.42</text>
<text class="a" x="121.66" y="299.86">0.3</text>
<text class="a" x="135.51" y="299.86">0.46</text>
<text class="a" x="149.36" y="299.86">0.42</text>
<text class="a" x="163.20" y="299.86">-0.075</text>
<text class="a" x="177.05" y="299.86">-0.092</text>
<text class="a" x="190.89" y="299.86">0.033</text>
<text class="a" x="204.74" y="299.86">-0.44</text>
<text class="a" x="218.59" y="299.86">-0.26</text>
<text class="a" x="232.43" y="299.86">0.56</text>
<text class="a" x="246.28" y="299.86">-0.33</text>
<text class="a" x="260.13" y="299.86">0.62</text>
<text class="a" x="273.97" y="299.86">-0.21</text>
<text class="a w" x="287.82" y="299.86">0.66</text>
<text class="a" x="301.67" y="299.86">0.23</text>
<text class="a w" x="315.51" y="299.86">1</text>
<text class="a" x="329.36" y="299.86">0.15</text>
<text class="a" x="343.21" y="299.86">0.46</text>
<text class="a" x="357.05" y="299.86">-0.11</text>
<text class="a" x="370.90" y="299.86">0.38</text>
<text class="a" x="384.74" y="299.86">0.21</text>
<text class="a" x="398.59" y="299.86">0.43</text>
<text class="a" x="412.44" y="299.86">0.24</text>
<text class="a" x="426.28" y="299.86">0.36</text>
<text class="a" x="440.13" y="299.86">0.073</text>
<text class="a" x="453.98" y="299.86">0.037</text>
<text class="a" x="80.12" y="316.72">0.083</text>
<text class="a" x="93.97" y="316.72">0.027</text>
<text class="a" x="107.82" y="316.72">-0.03</text>
<text class="a" x="121.66" y="316.72">0.11</text>
<text class="a" x="135.51" y="316.72">-0.02</text>
<text class="a" x="149.36" y="316.72">-0.045</text>
<text class="a" x="163.20" y="316.72">-0.27</text>
<text class="a" x="177.05" y="316.72">-0.21</text>
<text class="a" x="190.89" y="316.72">-0.09</text>
<text class="a" x="204.74" y="316.72">-0.029</text>
<text class="a" x="218.59" y="316.72">0.16</text>
<text class="a" x="232.43" y="316.72">-0.11</text>
<text class="a" x="246.28" y="316.72">0.25</text>
<text class="a" x="260.13" y="316.72">-0.079</text>
<text class="a" x="273.97" y="316.72">0.22</text>
<text class="a" x="287.82" y="316.72">-0.21</text>
<text class="a" x="301.67" y="316.72">0.012</text>
<text class="a" x="315.51" y="316.72">0.15</text>
<text class="a w" x="329.36" y="316.72">1</text>
<text class="a" x="343.21" y="316.72">0.4</text>
<text class="a" x="357.05" y="316.72">0.098</text>
<text class="a" x="370.90" y="316.72">-0.16</text>
<text class="a" x="384.74" y="316.72">-0.11</text>
<text class="a" x="398.59" y="316.72">-0.073</text>
<text class="a" x="412.44" y="316.72">-0.058</text>
<text class="a" x="426.28" y="316.72">-0.049</text>
<text class="a" x="440.13" y="316.72">0.098</text>
<text class="a" x="453.98" y="316.72">0.11</text>
<text class="a" x="80.12" y="333.58">-0.015</text>
<text class="a" x="93.97" y="333.58">-0.0074</text>
<text class="a" x="107.82" y="333.58">0.31</text>
<text class="a" x="121.66" y="333.58">0.28</text>
<text class="a" x="135.51" y="333.58">0.32</text>
<text class="a" x="149.36" y="333.58">0.3</text>
<text class="a" x="163.20" y="333.58">-0.25</text>
<text class="a" x="177.05" y="333.58">-0.21</text>
<text class="a" x="190.89" y="333.58">0.027</text>
<text class="a" x="204.74" y="333.58">-0.35</text>
<text class="a" x="218.59" y="333.58">-0.13</text>
<text class="a" x="232.43" y="333.58">0.4</text>
<text class="a" x="246.28" y="333.58">-0.2</text>
<text class="a" x="260.13" y="333.58">0.44</text>
<text class="a" x="273.97" y="333.58">-0.17</text>
<text class="a" x="287.82" y="333.58">0.39</text>
<text class="a" x="301.67" y="333.58">-0.22</text>
<text class="a" x="315.51" y="333.58">0.46</text>
<text class="a" x="329.36" y="333.58">0.4</text>
<text class="a w" x="343.21" y="333.58">1</text>
<text class="a" x="357.05" y="333.58">0.38</text>
<text class="a" x="370.90" y="333.58">0.37</text>
<text class="a" x="384.74" y="333.58">0.067</text>
<text class="a" x="398.59" y="333.58">0.21</text>
<text class="a" x="412.44" y="333.58">0.014</text>
<text class="a" x="426.28" y="333.58">0.089</text>
<text class="a" x="440.13" y="333.58">0.015</text>
<text class="a" x="453.98" y="333.58">0.16</text>
<text class="a" x="80.12" y="350.44">-0.13</text>
<text class="a" x="93.97" y="350.44">-0.14</text>
<text class="a" x="107.82" y="350.44">0.029</text>
<text class="a" x="121.66" y="350.44">0.059</text>
<text class="a" x="135.51" y="350.44">0.032</text>
<text class="a" x="149.36" y="350.44">0.024</text>
<text class="a" x="163.20" y="350.44">-0.049</text>
<text class="a" x="177.05" y="350.44">0.047</text>
<text class="a" x="190.89" y="350.44">-0.17</text>
<text class="a" x="204.74" y="350.44">-0.12</text>
<text class="a" x="218.59" y="350.44">0.066</text>
<text class="a" x="232.43" y="350.44">0.035</text>
<text class="a" x="246.28" y="350.44">0.12</text>
<text class="a" x="260.13" y="350.44">-0.033</text>
<text class="a" x="273.97" y="350.44">0.25</text>
<text class="a" x="287.82" y="350.44">-0.095</text>
<text class="a" x="301.67" y="350.44">0.081</text>
<text class="a" x="315.51" y="350.44">-0.11</text>
<text class="a" x="329.36" y="350.44">0.098</text>
<text class="a" x="343.21" y="350.44">0.38</text>
<text class="a w" x="357.05" y="350.44">1</text>
<text class="a" x="370.90" y="350.44">0.47</text>
<text class="a" x="384.74" y="350.44">0.19</text>
<text class="a" x="398.59" y="350.44">-0.063</text>
<text class="a" x="412.44" y="350.44">0.0054</text>
<text class="a" x="426.28" y="350.44">-0.16</text>
<text class="a" x="440.13" y="350.44">-0.053</text>
<text class="a" x="453.98" y="350.44">0.012</text>
<text class="a" x="80.12" y="367.30">-0.077</text>
<text class="a" x="93.97" y="367.30">-0.082</text>
<text class="a" x="107.82" y="367.30">0.35</text>
<text class="a" x="121.66" y="367.30">0.29</text>
<text class="a" x="135.51" y="367.30">0.36</text>
<text class="a" x="149.36" y="367.30">0.32</text>
<text class="a" x="163.20" y="367.30">-0.11</text>
<text class="a" x="177.05" y="367.30">-0.055</text>
<text class="a" x="190.89" y="367.30">-0.025</text>
<text class="a" x="204.74" y="367.30">-0.4</text>
<text class="a" x="218.59" y="367.30">-0.19</text>
<text class="a" x="232.43" y="367.30">0.33</text>
<text class="a" x="246.28" y="367.30">-0.26</text>
<text class="a" x="260.13" y="367.30">0.35</text>
<text class="a" x="273.97" y="367.30">-0.029</text>
<text class="a" x="287.82" y="367.30">0.51</text>
<text class="a" x="301.67" y="367.30">0.062</text>
<text class="a" x="315.51" y="367.30">0.38</text>
<text class="a" x="329.36" y="367.30">-0.16</text>
<text class="a" x="343.21" y="367.30">0.37</text>
<text class="a" x="357.05" y="367.30">0.47</text>
<text class="a w" x="370.90" y="367.30">1</text>
<text class="a" x="384.74" y="367.30">0.62</text>
<text class="a" x="398.59" y="367.30">0.39</text>
<text class="a" x="412.44" y="367.30">0.15</text>
<text class="a" x="426.28" y="367.30">0.11</text>
<text class="a" x="440.13" y="367.30">-0.088</text>
<text class="a" x="453.98" y="367.30">0.0016</text>
<text class="a" x="80.12" y="384.17">-0.071</text>
<text class="a" x="93.97" y="384.17">-0.16</text>
<text class="a" x="107.82" y="384.17">0.21</text>
<text class="a" x="121.66" y="384.17">0.19</text>
<text class="a" x="135.51" y="384.17">0.23</text>
<text class="a" x="149.36" y="384.17">0.16</text>
<text class="a" x="163.20" y="384.17">-0.021</text>
<text class="a" x="177.05" y="384.17">-0.021</text>
<text class="a" x="190.89" y="384.17">-0.13</text>
<text class="a" x="204.74" y="384.17">-0.3</text>
<text class="a" x="218.59" y="384.17">-0.13</text>
<text class="a" x="232.43" y="384.17">0.24</text>
<text class="a" x="246.28" y="384.17">-0.038</text>
<text class="a" x="260.13" y="384.17">0.09</text>
<text class="a" x="273.97" y="384.17">0.088</text>
<text class="a" x="287.82" y="384.17">0.31</text>
<text class="a" x="301.67" y="384.17">0.24</text>
<text class="a" x="315.51" y="384.17">0.21</text>
<text class="a" x="329.36" y="384.17">-0.11</text>
<text class="a" x="343.21" y="384.17">0.067</text>
<text class="a" x="357.05" y="384.17">0.19</text>
<text class="a" x="370.90" y="384.17">0.62</text>
<text class="a w" x="384.74" y="384.17">1</text>
<text class="a w" x="398.59" y="384.17">0.69</text>
<text class="a" x="412.44" y="384.17">0.36</text>
<text class="a" x="426.28" y="384.17">0.14</text>
<text class="a" x="440.13" y="384.17">-0.0078</text>
<text class="a" x="453.98" y="384.17">0.027</text>
<text class="a" x="80.12" y="401.03">-0.047</text>
<text class="a" x="93.97" y="401.03">-0.12</text>
<text class="a" x="107.82" y="401.03">0.35</text>
<text class="a" x="121.66" y="401.03">0.27</text>
<text class="a" x="135.51" y="401.03">0.36</text>
<text class="a" x="149.36" y="401.03">0.32</text>
<text class="a" x="163.20" y="401.03">-0.0068</text>
<text class="a" x="177.05" y="401.03">-0.036</text>
<text class="a" x="190.89" y="401.03">-0.00034</text>
<text class="a" x="204.74" y="401.03">-0.39</text>
<text class="a" x="218.59" y="401.03">-0.26</text>
<text class="a" x="232.43" y="401.03">0.31</text>
<text class="a" x="246.28" y="401.03">-0.25</text>
<text class="a" x="260.13" y="401.03">0.27</text>
<text class="a" x="273.97" y="401.03">-0.12</text>
<text class="a" x="287.82" y="401.03">0.41</text>
<text class="a" x="301.67" y="401.03">0.11</text>
<text class="a" x="315.51" y="401.03">0.43</text>
<text class="a" x="329.36" y="401.03">-0.073</text>
<text class="a" x="343.21" y="401.03">0.21</text>
<text class="a" x="357.05" y="401.03">-0.063</text>
<text class="a" x="370.90" y="401.03">0.39</text>
<text class="a w" x="384.74" y="401.03">0.69</text>
<text class="a w" x="398.59" y="401.03">1</text>
<text class="a w" x="412.44" y="401.03">0.64</text>
<text class="a" x="426.28" y="401.03">0.29</text>
<text class="a" x="440.13" y="401.03">-0.0055</text>
<text class="a" x="453.98" y="401.03">0.1</text>
<text class="a" x="80.12" y="417.89">-0.11</text>
<text class="a" x="93.97" y="417.89">-0.31</text>
<text class="a" x="107.82" y="417.89">0.16</text>
<text class="a" x="121.66" y="417.89">0.093</text>
<text class="a" x="135.51" y="417.89">0.17</text>
<text class="a" x="149.36" y="417.89">0.13</text>
<text class="a" x="163.20" y="417.89">0.11</text>
<text class="a" x="177.05" y="417.89">0.2</text>
<text class="a" x="190.89" y="417.89">-0.22</text>
<text class="a" x="204.74" y="417.89">-0.23</text>
<text class="a" x="218.59" y="417.89">-0.12</text>
<text class="a" x="232.43" y="417.89">0.16</text>
<text class="a" x="246.28" y="417.89">-0.14</text>
<text class="a" x="260.13" y="417.89">0.083</text>
<text class="a" x="273.97" y="417.89">0.032</text>
<text class="a" x="287.82" y="417.89">0.17</text>
<text class="a" x="301.67" y="417.89">0.19</text>
<text class="a" x="315.51" y="417.89">0.24</text>
<text class="a" x="329.36" y="417.89">-0.058</text>
<text class="a" x="343.21" y="417.89">0.014</text>
<text class="a" x="357.05" y="417.89">0.0054</text>
<text class="a" x="370.90" y="417.89">0.15</text>
<text class="a" x="384.74" y="417.89">0.36</text>
<text class="a w" x="398.59" y="417.89">0.64</text>
<text class="a w" x="412.44" y="417.89">1</text>
<text class="a" x="426.28" y="417.89">0.6</text>
<text class="a" x="440.13" y="417.89">0.11</text>
<text class="a" x="453.98" y="417.89">-0.002</text>
<text class="a" x="80.12" y="434.75">-0.06</text>
<text class="a" x="93.97" y="434.75">-0.11</text>
<text class="a" x="107.82" y="434.75">0.28</text>
<text class="a" x="121.66" y="434.75">0.18</text>
<text class="a" x="135.51" y="434.75">0.27</text>
<text class="a" x="149.36" y="434.75">0.27</text>
<text class="a" x="163.20" y="434.75">-0.052</text>
<text class="a" x="177.05" y="434.75">0.0087</text>
<text class="a" x="190.89" y="434.75">-0.073</text>
<text class="a" x="204.74" y="434.75">-0.31</text>
<text class="a" x="218.59" y="434.75">-0.17</text>
<text class="a" x="232.43" y="434.75">0.18</text>
<text class="a" x="246.28" y="434.75">-0.18</text>
<text class="a" x="260.13" y="434.75">0.22</text>
<text class="a" x="273.97" y="434.75">-0.086</text>
<text class="a" x="287.82" y="434.75">0.3</text>
<text class="a" x="301.67" y="434.75">0.13</text>
<text class="a" x="315.51" y="434.75">0.36</text>
<text class="a" x="329.36" y="434.75">-0.049</text>
<text class="a" x="343.21" y="434.75">0.089</text>
<text class="a" x="357.05" y="434.75">-0.16</text>
<text class="a" x="370.90" y="434.75">0.11</text>
<text class="a" x="384.74" y="434.75">0.14</text>
<text class="a" x="398.59" y="434.75">0.29</text>
<text class="a" x="412.44" y="434.75">0.6</text>
<text class="a w" x="426.28" y="434.75">1</text>
<text class="a" x="440.13" y="434.75">0.42</text>
<text class="a" x="453.98" y="434.75">-0.052</text>
<text class="a" x="80.12" y="451.61">-0.066</text>
<text class="a" x="93.97" y="451.61">-0.24</text>
<text class="a" x="107.82" y="451.61">-0.12</text>
<text class="a" x="121.66" y="451.61">-0.094</text>
<text class="a" x="135.51" y="451.61">-0.1</text>
<text class="a" x="149.36" y="451.61">-0.13</text>
<text class="a" x="163.20" y="451.61">0.13</text>
<text class="a" x="177.05" y="451.61">0.18</text>
<text class="a" x="190.89" y="451.61">-0.25</text>
<text class="a" x="204.74" y="451.61">0.065</text>
<text class="a" x="218.59" y="451.61">0.0054</text>
<text class="a" x="232.43" y="451.61">0.049</text>
<text class="a" x="246.28" y="451.61">0.013</text>
<text class="a" x="260.13" y="451.61">0.0015</text>
<text class="a" x="273.97" y="451.61">-0.032</text>
<text class="a" x="287.82" y="451.61">-0.052</text>
<text class="a" x="301.67" y="451.61">0.007</text>
<text class="a" x="315.51" y="451.61">0.073</text>
<text class="a" x="329.36" y="451.61">0.098</text>
<text class="a" x="343.21" y="451.61">0.015</text>
<text class="a" x="357.05" y="451.61">-0.053</text>
<text class="a" x="370.90" y="451.61">-0.088</text>
<text class="a" x="384.74" y="451.61">-0.0078</text>
<text class="a" x="398.59" y="451.61">-0.0055</text>
<text class="a" x="412.44" y="451.61">0.11</text>
<text class="a" x="426.28" y="451.61">0.42</text>
<text class="a w" x="440.13" y="451.61">1</text>
<text class="a" x="453.98" y="451.61">0.45</text>
<text class="a" x="80.12" y="468.47">-0.0043</text>
<text class="a" x="93.97" y="468.47">-0.098</text>
<text class="a" x="107.82" y="468.47">0.029</text>
<text class="a" x="121.66" y="468.47">0.086</text>
<text class="a" x="135.51" y="468.47">0.049</text>
<text class="a" x="149.36" y="468.47">0.0073</text>
<text class="a" x="163.20" y="468.47">-0.028</text>
<text class="a" x="177.05" y="468.47">-0.038</text>
<text class="a" x="190.89" y="468.47">-0.12</text>
<text class="a" x="204.74" y="468.47">-0.09</text>
<text class="a" x="218.59" y="468.47">-0.026</text>
<text class="a" x="232.43" y="468.47">0.082</text>
<text class="a" x="246.28" y="468.47">0.022</text>
<text class="a" x="260.13" y="468.47">0.052</text>
<text class="a" x="273.97" y="468.47">0.026</text>
<text class="a" x="287.82" y="468.47">0.06</text>
<text class="a" x="301.67" y="468.47">0.023</text>
<text class="a" x="315.51" y="468.47">0.037</text>
<text class="a" x="329.36" y="468.47">0.11</text>
<text class="a" x="343.21" y="468.47">0.16</text>
<text class="a" x="357.05" y="468.47">0.012</text>
<text class="a" x="370.90" y="468.47">0.0016</text>
<text class="a" x="384.74" y="468.47">0.027</text>
<text class="a" x="398.59" y="468.47">0.1</text>
<text class="a" x="412.44" y="468.47">-0.002</text>
<text class="a" x="426.28" y="468.47">-0.052</text>
<text class="a" x="440.13" y="468.47">0.45</text>
<text class="a w" x="453.98" y="468.47">1</text>
</g>
<g transform="rotate(0.03 261 275)">
<line x1="72.05" y1="12.33" x2="73.20" y2="12.33" stroke="#262626" stroke-width="0.27"/>
<text class="yl" x="70.60" y="13.77">chroma_stft_mean</text>
<line x1="72.05" y1="29.19" x2="73.20" y2="29.19" stroke="#262626" stroke-width="0.27"/>
<text class="yl" x="70.60" y="30.63">rms_mean</text>
<line x1="72.05" y1="46.05" x2="73.20" y2="46.05" stroke="#262626" stroke-width="0.27"/>
<text class="yl" x="70.60" y="47.49">spectral_centroid_mean</text>
<line x1="72.05" y1="62.91" x2="73.20" y2="62.91" stroke="#262626" stroke-width="0.27"/>
<text class="yl" x="70.60" y="64.35">spectral_bandwidth_mean</text>
<line x1="72.05" y1="79.77" x2="73.20" y2="79.77" stroke="#262626" stroke-width="0.27"/>
<text class="yl" x="70.60" y="81.21">rolloff_mean</text>
<line x1="72.05" y1="96.63" x2="73.20" y2="96.63" stroke="#262626" stroke-width="0.27"/>
<text class="yl" x="70.60" y="98.07">zero_crossing_rate_mean</text>
<line x1="72.05" y1="113.49" x2="73.20" y2="113.49" stroke="#262626" stroke-width="0.27"/>
<text class="yl" x="70.60" y="114.93">harmony_mean</text>
<line x1="72.05" y1="130.36" x2="73.20" y2="130.36" stroke="#262626" stroke-width="0.27"/>
<text class="yl" x="70.60" y="131.79">perceptr_mean</text>
<line x1="72.05" y1="147.22" x2="73.20" y2="147.22" stroke="#262626" stroke-width="0.27"/>
<text class="yl" x="70.60" y="148.65">mfcc1_mean</text>
<line x1="72.05" y1="164.08" x2="73.20" y2="164.08" stroke="#262626" stroke-width="0.27"/>
<text class="yl" x="70.60" y="165.52">mfcc2_mean</text>
<line x1="72.05" y1="180.94" x2="73.20" y2="180.94" stroke="#262626" stroke-width="0.27"/>
<text class="yl" x="70.60" y="182.38">mfcc3_mean</text>
<line x1="72.05" y1="197.80" x2="73.20" y2="197.80" stroke="#262626" stroke-width="0.27"/>
<text class="yl" x="70.60" y="199.24">mfcc4_mean</text>
<line x1="72.05" y1="214.66" x2="73.20" y2="214.66" stroke="#262626" stroke-width="0.27"/>
<text class="yl" x="70.60" y="216.10">mfcc5_mean</text>
<line x1="72.05" y1="231.52" x2="73.20" y2="231.52" stroke="#262626" stroke-width="0.27"/>
<text class="yl" x="70.60" y="232.96">mfcc6_mean</text>
<line x1="72.05" y1="248.38" x2="73.20" y2="248.38" stroke="#262626" stroke-width="0.27"/>
<text class="yl" x="70.60" y="249.82">mfcc7_mean</text>
<line x1="72.05" y1="265.24" x2="73.20" y2="265.24" stroke="#262626" stroke-width="0.27"/>
<text class="yl" x="70.60" y="266.68">mfcc8_mean</text>
<line x1="72.05" y1="282.10" x2="73.20" y2="282.10" stroke="#262626" stroke-width="0.27"/>
<text class="yl" x="70.60" y="283.54">mfcc9_mean</text>
<line x1="72.05" y1="298.96" x2="73.20" y2="298.96" stroke="#262626" stroke-width="0.27"/>
<text class="yl" x="70.60" y="300.40">mfcc10_mean</text>
<line x1="72.05" y1="315.82" x2="73.20" y2="315.82" stroke="#262626" stroke-width="0.27"/>
<text class="yl" x="70.60" y="317.26">mfcc11_mean</text>
<line x1="72.05" y1="332.68" x2="73.20" y2="332.68" stroke="#262626" stroke-width="0.27"/>
<text class="yl" x="70.60" y="334.12">mfcc12_mean</text>
<line x1="72.05" y1="349.54" x2="73.20" y2="349.54" stroke="#262626" stroke-width="0.27"/>
<text class="yl" x="70.60" y="350.98">mfcc13_mean</text>
<line x1="72.05" y1="366.41" x2="73.20" y2="366.41" stroke="#262626" stroke-width="0.27"/>
<text class="yl" x="70.60" y="367.84">mfcc14_mean</text>
<line x1="72.05" y1="383.27" x2="73.20" y2="383.27" stroke="#262626" stroke-width="0.27"/>
<text class="yl" x="70.60" y="384.70">mfcc15_mean</text>
<line x1="72.05" y1="400.13" x2="73.20" y2="400.13" stroke="#262626" stroke-width="0.27"/>
<text class="yl" x="70.60" y="401.57">mfcc16_mean</text>
<line x1="72.05" y1="416.99" x2="73.20" y2="416.99" stroke="#262626" stroke-width="0.27"/>
<text class="yl" x="70.60" y="418.43">mfcc17_mean</text>
<line x1="72.05" y1="433.85" x2="73.20" y2="433.85" stroke="#262626" stroke-width="0.27"/>
<text class="yl" x="70.60" y="435.29">mfcc18_mean</text>
<line x1="72.05" y1="450.71" x2="73.20" y2="450.71" stroke="#262626" stroke-width="0.27"/>
<text class="yl" x="70.60" y="452.15">mfcc19_mean</text>
<line x1="72.05" y1="467.57" x2="73.20" y2="467.57" stroke="#262626" stroke-width="0.27"/>
<text class="yl" x="70.60" y="469.01">mfcc20_mean</text>
<line x1="80.12" y1="476.00" x2="80.12" y2="477.15" stroke="#262626" stroke-width="0.27"/>
<text class="xl" transform="translate(81.96,480.05) rotate(-90)">chroma_stft_mean</text>
<line x1="93.97" y1="476.00" x2="93.97" y2="477.15" stroke="#262626" stroke-width="0.27"/>
<text class="xl" transform="translate(95.81,480.05) rotate(-90)">rms_mean</text>
<line x1="107.82" y1="476.00" x2="107.82" y2="477.15" stroke="#262626" stroke-width="0.27"/>
<text class="xl" transform="translate(109.65,480.05) rotate(-90)">spectral_centroid_mean</text>
<line x1="121.66" y1="476.00" x2="121.66" y2="477.15" stroke="#262626" stroke-width="0.27"/>
<text class="xl" transform="translate(123.50,480.05) rotate(-90)">spectral_bandwidth_mean</text>
<line x1="135.51" y1="476.00" x2="135.51" y2="477.15" stroke="#262626" stroke-width="0.27"/>
<text class="xl" transform="translate(137.35,480.05) rotate(-90)">rolloff_mean</text>
<line x1="149.36" y1="476.00" x2="149.36" y2="477.15" stroke="#262626" stroke-width="0.27"/>
<text class="xl" transform="translate(151.19,480.05) rotate(-90)">zero_crossing_rate_mean</text>
<line x1="163.20" y1="476.00" x2="163.20" y2="477.15" stroke="#262626" stroke-width="0.27"/>
<text class="xl" transform="translate(165.04,480.05) rotate(-90)">harmony_mean</text>
<line x1="177.05" y1="476.00" x2="177.05" y2="477.15" stroke="#262626" stroke-width="0.27"/>
<text class="xl" transform="translate(178.89,480.05) rotate(-90)">perceptr_mean</text>
<line x1="190.89" y1="476.00" x2="190.89" y2="477.15" stroke="#262626" stroke-width="0.27"/>
<text class="xl" transform="translate(192.73,480.05) rotate(-90)">mfcc1_mean</text>
<line x1="204.74" y1="476.00" x2="204.74" y2="477.15" stroke="#262626" stroke-width="0.27"/>
<text class="xl" transform="translate(206.58,480.05) rotate(-90)">mfcc2_mean</text>
<line x1="218.59" y1="476.00" x2="218.59" y2="477.15" stroke="#262626" stroke-width="0.27"/>
<text class="xl" transform="translate(220.43,480.05) rotate(-90)">mfcc3_mean</text>
<line x1="232.43" y1="476.00" x2="232.43" y2="477.15" stroke="#262626" stroke-width="0.27"/>
<text class="xl" transform="translate(234.27,480.05) rotate(-90)">mfcc4_mean</text>
<line x1="246.28" y1="476.00" x2="246.28" y2="477.15" stroke="#262626" stroke-width="0.27"/>
<text class="xl" transform="translate(248.12,480.05) rotate(-90)">mfcc5_mean</text>
<line x1="260.13" y1="476.00" x2="260.13" y2="477.15" stroke="#262626" stroke-width="0.27"/>
<text class="xl" transform="translate(261.97,480.05) rotate(-90)">mfcc6_mean</text>
<line x1="273.97" y1="476.00" x2="273.97" y2="477.15" stroke="#262626" stroke-width="0.27"/>
<text class="xl" transform="translate(275.81,480.05) rotate(-90)">mfcc7_mean</text>
<line x1="287.82" y1="476.00" x2="287.82" y2="477.15" stroke="#262626" stroke-width="0.27"/>
<text class="xl" transform="translate(289.66,480.05) rotate(-90)">mfcc8_mean</text>
<line x1="301.67" y1="476.00" x2="301.67" y2="477.15" stroke="#262626" stroke-width="0.27"/>
<text class="xl" transform="translate(303.50,480.05) rotate(-90)">mfcc9_mean</text>
<line x1="315.51" y1="476.00" x2="315.51" y2="477.15" stroke="#262626" stroke-width="0.27"/>
<text class="xl" transform="translate(317.35,480.05) rotate(-90)">mfcc10_mean</text>
<line x1="329.36" y1="476.00" x2="329.36" y2="477.15" stroke="#262626" stroke-width="0.27"/>
<text class="xl" transform="translate(331.20,480.05) rotate(-90)">mfcc11_mean</text>
<line x1="343.21" y1="476.00" x2="343.21" y2="477.15" stroke="#262626" stroke-width="0.27"/>
<text class="xl" transform="translate(345.04,480.05) rotate(-90)">mfcc12_mean</text>
<line x1="357.05" y1="476.00" x2="357.05" y2="477.15" stroke="#262626" stroke-width="0.27"/>
<text class="xl" transform="translate(358.89,480.05) rotate(-90)">mfcc13_mean</text>
<line x1="370.90" y1="476.00" x2="370.90" y2="477.15" stroke="#262626" stroke-width="0.27"/>
<text class="xl" transform="translate(372.74,480.05) rotate(-90)">mfcc14_mean</text>
<line x1="384.74" y1="476.00" x2="384.74" y2="477.15" stroke="#262626" stroke-width="0.27"/>
<text class="xl" transform="translate(386.58,480.05) rotate(-90)">mfcc15_mean</text>
<line x1="398.59" y1="476.00" x2="398.59" y2="477.15" stroke="#262626" stroke-width="0.27"/>
<text class="xl" transform="translate(400.43,480.05) rotate(-90)">mfcc16_mean</text>
<line x1="412.44" y1="476.00" x2="412.44" y2="477.15" stroke="#262626" stroke-width="0.27"/>
<text class="xl" transform="translate(414.28,480.05) rotate(-90)">mfcc17_mean</text>
<line x1="426.28" y1="476.00" x2="426.28" y2="477.15" stroke="#262626" stroke-width="0.27"/>
<text class="xl" transform="translate(428.12,480.05) rotate(-90)">mfcc18_mean</text>
<line x1="440.13" y1="476.00" x2="440.13" y2="477.15" stroke="#262626" stroke-width="0.27"/>
<text class="xl" transform="translate(441.97,480.05) rotate(-90)">mfcc19_mean</text>
<line x1="453.98" y1="476.00" x2="453.98" y2="477.15" stroke="#262626" stroke-width="0.27"/>
<text class="xl" transform="translate(455.82,480.05) rotate(-90)">mfcc20_mean</text>
</g>
<rect x="485.65" y="3.90" width="23.45" height="472.10" fill="url(#g)"/>
<g transform="rotate(0.03 261 275)">
<line x1="509.10" y1="3.90" x2="510.25" y2="3.90" stroke="#262626" stroke-width="0.27"/>
<text class="cb" x="511.70" y="5.14">1.00</text>
<line x1="509.10" y1="62.91" x2="510.25" y2="62.91" stroke="#262626" stroke-width="0.27"/>
<text class="cb" x="511.70" y="64.16">0.75</text>
<line x1="509.10" y1="121.93" x2="510.25" y2="121.93" stroke="#262626" stroke-width="0.27"/>
<text class="cb" x="511.70" y="123.17">0.50</text>
<line x1="509.10" y1="180.94" x2="510.25" y2="180.94" stroke="#262626" stroke-width="0.27"/>
<text class="cb" x="511.70" y="182.18">0.25</text>
<line x1="509.10" y1="239.95" x2="510.25" y2="239.95" stroke="#262626" stroke-width="0.27"/>
<text class="cb" x="511.70" y="241.19">0.00</text>
<line x1="509.10" y1="298.96" x2="510.25" y2="298.96" stroke="#262626" stroke-width="0.27"/>
<text class="cb" x="511.70" y="300.21">−0.25</text>
<line x1="509.10" y1="357.98" x2="510.25" y2="357.98" stroke="#262626" stroke-width="0.27"/>
<text class="cb" x="511.70" y="359.22">−0.50</text>
<line x1="509.10" y1="416.99" x2="510.25" y2="416.99" stroke="#262626" stroke-width="0.27"/>
<text class="cb" x="511.70" y="418.23">−0.75</text>
<line x1="509.10" y1="476.00" x2="510.25" y2="476.00" stroke="#262626" stroke-width="0.27"/>
<text class="cb" x="511.70" y="477.24">−1.00</text>
</g>
</svg></body></html>
